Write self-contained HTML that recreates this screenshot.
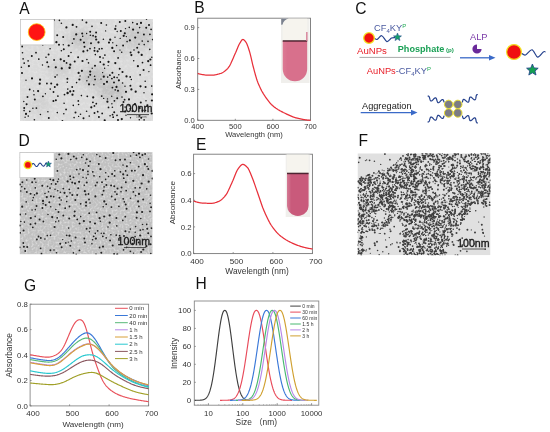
<!DOCTYPE html><html><head><meta charset="utf-8"><style>html,body{margin:0;padding:0;background:#fff;overflow:hidden;width:550px;height:432px} svg{display:block} text{font-family:'Liberation Sans',Arial,sans-serif}</style></head><body>
<svg width="550" height="432" viewBox="0 0 550 432">
<defs><filter id="blur3" x="-50%" y="-50%" width="200%" height="200%"><feGaussianBlur stdDeviation="4"/></filter><filter id="grain" x="0" y="0" width="100%" height="100%"><feTurbulence type="fractalNoise" baseFrequency="0.6" numOctaves="2" seed="3"/><feColorMatrix type="matrix" values="0 0 0 0 0  0 0 0 0 0  0 0 0 0 0  0 0 0 -2 1.2"/></filter><filter id="soft"><feGaussianBlur stdDeviation="0.35"/></filter></defs>
<rect width="550" height="432" fill="#fff"/>
<text x="19.2" y="14.3" font-size="15.6" text-anchor="start" fill="#111" >A</text>
<text x="194.2" y="12.8" font-size="15.6" text-anchor="start" fill="#111" >B</text>
<text x="355.2" y="14.4" font-size="15.6" text-anchor="start" fill="#111" >C</text>
<text x="18.6" y="145.7" font-size="15.6" text-anchor="start" fill="#111" >D</text>
<text x="195.9" y="150" font-size="15.6" text-anchor="start" fill="#111" >E</text>
<text x="358.6" y="145.7" font-size="15.6" text-anchor="start" fill="#111" >F</text>
<text x="23.9" y="291.1" font-size="15.6" text-anchor="start" fill="#111" >G</text>
<text x="195.4" y="288.9" font-size="15.6" text-anchor="start" fill="#111" >H</text>
<clipPath id="clip11"><rect x="20" y="19" width="133" height="102"/></clipPath>
<g clip-path="url(#clip11)">
<rect x="20" y="19" width="133" height="102" fill="#dadada"/>
<ellipse cx="82" cy="39" rx="14" ry="9" fill="#a8a8a8" opacity="0.45" filter="url(#blur3)"/>
<ellipse cx="138" cy="37" rx="16" ry="12" fill="#b0b0b0" opacity="0.45" filter="url(#blur3)"/>
<ellipse cx="95" cy="77" rx="14" ry="10" fill="#a8a8a8" opacity="0.5" filter="url(#blur3)"/>
<ellipse cx="112" cy="91" rx="14" ry="10" fill="#a8a8a8" opacity="0.5" filter="url(#blur3)"/>
<ellipse cx="60" cy="69" rx="12" ry="8" fill="#b4b4b4" opacity="0.35" filter="url(#blur3)"/>
<ellipse cx="120" cy="49" rx="8" ry="8" fill="#b4b4b4" opacity="0.35" filter="url(#blur3)"/>
<ellipse cx="40" cy="104" rx="10" ry="10" fill="#b8b8b8" opacity="0.3" filter="url(#blur3)"/>
<rect x="20" y="19" width="133" height="102" filter="url(#grain11)" opacity="0.2"/>
<g filter="url(#b11)">
<path d="M81.9 70.8h0M107 81.8h0M89 84.3h0M147.4 105.4h0M150.4 59.5h0M32 78.4h0M135.2 37.6h0M141.7 54.9h0M84 42.5h0M54 20.2h0M110.2 39.7h0M140.5 86.3h0M138.6 52.3h0M97.6 51.3h0M103.7 64.5h0M125.3 111.4h0M66.4 27.4h0M93.2 97.4h0M124.8 33.3h0M96.2 39.5h0M126.5 76.4h0M55.8 67.3h0M83.4 51.4h0M151.7 113.5h0M26 113.9h0M112.3 47.9h0M34.5 37.8h0M90.2 71.6h0M126 91.8h0M40.9 35h0M104.7 120.3h0M115.3 28.9h0M129.9 40.3h0M70.2 91.4h0M151.9 100.5h0M64.1 61h0M82.5 61h0M60.7 59.3h0M131.4 55.1h0M135.7 91.7h0M98.5 42.4h0M78.6 72.9h0M123.7 35.8h0M137.9 66.2h0M122.5 72h0M40.1 79.7h0M38.1 91.1h0M116.5 86.9h0M103.8 76.7h0M76.2 34.4h0M141 22.9h0M109 42.6h0M121.8 119.1h0M56.4 42.2h0M68.7 45.5h0M72.7 24.9h0M107.4 101.7h0M43.6 29.8h0M39.7 83.7h0M131.4 89.4h0M108.5 61.8h0M79.4 79.5h0M152.1 94.3h0M91.3 107.3h0M57.2 84.7h0M135 104.1h0M118.9 80.3h0M28.9 66.1h0M72.5 94.7h0M133.1 29.6h0M148.2 61.2h0M61.8 68.4h0M27.1 28.5h0M129 99.4h0M70.3 64.7h0M115.3 63.1h0" stroke="#161616" stroke-width="2.2" stroke-linecap="round" fill="none"/>
<path d="M125.5 28.6h0M45.3 43.7h0M108.1 65.6h0M103.7 98.4h0M45.4 93.7h0M105.6 30.9h0M25.1 117.2h0M104.6 68.2h0M42.5 65h0M115 37.3h0M144 92.7h0M126 115.3h0M23.8 101.5h0M126.4 36.6h0M86.9 80.7h0M148.9 71.6h0M117.2 31.5h0M120.2 38.4h0M49.8 37.9h0M146 100.7h0M125 86.3h0M86.6 33.5h0M111.7 96.3h0M120 50.1h0M26 80.2h0M57.1 74.9h0M107.5 98.9h0M102.6 72.6h0M111.9 103.8h0M63.3 44.8h0M130.5 117.8h0M33.6 90.9h0M92.2 68.3h0M78.6 116.4h0M145.6 110.4h0M80.1 75.9h0M101 79.1h0M112.8 42.8h0" stroke="#161616" stroke-width="1.4" stroke-linecap="round" fill="none"/>
<path d="M22 72.9h0M114.1 51.2h0M120.8 31h0M63.8 49.2h0M100 56.9h0M140.8 102.4h0M96.1 32.4h0M118 90.8h0M139.8 107.9h0M119.8 22h0M24.2 108h0M114.2 77.2h0M125.3 20.9h0M51.6 33.4h0M146.2 27.8h0M94.5 50.8h0M132.4 110.9h0M78.1 57.3h0M104 84.1h0M141.2 117.8h0M123.5 102.1h0M145.6 86.9h0M83.5 118.3h0M80.6 39.8h0M90.2 31.7h0M25.3 25.2h0M68.6 56.1h0M137.2 47.7h0M114.2 112.3h0M47.2 62.3h0M149 25h0M75.5 112.5h0M130.4 85.7h0M95 65.7h0M82.2 33.6h0M95.7 36.7h0M112.4 72.7h0M67.4 78.7h0M142.7 110.5h0M137.1 24.1h0M53.4 100.9h0M143.6 70h0M86.4 22.6h0M48.8 118h0M101.2 23h0M48.6 54.4h0M51.2 83.5h0M57.2 35.2h0M54.8 87.1h0M74.7 61.4h0M91 43.2h0M63.2 37.1h0M114 82.5h0M73.5 90.9h0M143.9 34.5h0M118 119.9h0M31.8 56.1h0M139.4 115.9h0M117.2 98.2h0M34.8 99.5h0M26.6 104.2h0M90.2 74.8h0M119.7 68.7h0M98.9 117h0M55.9 100.2h0M130.6 52.5h0M27.5 96.9h0M94.5 113.1h0M59 44.8h0M84.5 46.8h0M123.1 45.5h0" stroke="#161616" stroke-width="2" stroke-linecap="round" fill="none"/>
<path d="M73.3 105.4h0M47.9 111.8h0M115.8 26h0M57.3 112.6h0M28 37h0M125.1 107.1h0M103.1 58h0M78.6 104.5h0M50.2 89.1h0M67.3 82.2h0M90.4 35.3h0M116.6 45.5h0M88.5 77h0M28.2 116.1h0M121.7 52.3h0M88.5 62.9h0M122 97.1h0M82.4 20.1h0M107.7 77.1h0M46 57.3h0M82.7 36.3h0M94.6 47.9h0M59.4 20.4h0M29.8 111.4h0M76.6 82.6h0M92 26.4h0M32.9 108.3h0M139 44.3h0M139.6 27.6h0M151.8 57.3h0M151.7 86.1h0M21.4 67.2h0M129.3 27.4h0M134 50h0M61.4 50.7h0M67.8 89.1h0M64.1 103.3h0M131.3 79.5h0M22.5 52.8h0M140.1 74.9h0M103.4 39.2h0M63.8 113.8h0M94.6 76.2h0M133.7 60.7h0M86.9 59.5h0M127.1 41.6h0M146.5 19.1h0M24.1 110.6h0M30.5 41.8h0M139.3 119.7h0M81.4 95.6h0M93.9 84.8h0M89.2 116.1h0M61.4 23.3h0M42.8 45h0M28.1 60.9h0M106.4 25h0M112.4 107.2h0M40.4 114.5h0M72.4 43.3h0M50.1 48.8h0M149.8 49.4h0M142.2 41.1h0M71 52.5h0M51.9 28.5h0M23.1 58.9h0M122.6 83h0M115.2 89.9h0M144.1 119.9h0M144.2 44.6h0M152.6 39.6h0M118.8 74.7h0M34.4 119.7h0M148 41.4h0M110.1 115.7h0M33.3 22.8h0M145.2 81.2h0M80.5 114.2h0M129.1 105.7h0M23.8 30.2h0M86.6 111.2h0M74.1 117.6h0M34 94.7h0M117.1 77.6h0M132.7 22.6h0M95.3 54.6h0" stroke="#161616" stroke-width="1.6" stroke-linecap="round" fill="none"/>
<path d="M100.3 62h0M99.3 48.9h0M94.4 105.9h0M22.2 46.5h0M111.9 78.6h0M113.2 117.2h0M62.4 120.9h0M150.6 65.2h0M101.7 96.1h0M90 48.6h0M102.2 113.4h0M138 32.7h0M87.3 96.3h0M73.9 38.9h0M54.1 60h0M95.1 79.4h0M109.9 75.2h0M142.5 62.6h0M78.3 100.9h0M114.4 100.8h0M97.7 111.7h0M42.9 96.3h0M92.9 102.3h0M101.9 48.6h0M72.2 87h0M96.3 103.7h0M118.1 57.9h0M55.1 76.9h0M108.5 107.4h0M46.9 83.5h0M112.6 114.7h0M57.9 96.1h0M124.6 99.7h0M43.9 34.5h0M38.8 59.1h0M76.5 26.8h0M93.1 35.7h0M48.5 66.7h0M29.7 89.5h0M48.7 23.2h0M130.3 108.7h0M87.4 50.5h0M149.9 34.3h0M66.1 109.4h0M36.8 25.5h0M53.5 92h0M130.2 76.9h0M36 52.7h0M43.4 21.7h0M151.1 29.3h0M104.9 55.1h0M64.5 94.6h0M66.6 62.9h0M112.4 87.6h0M36.4 108.1h0M24.2 63.1h0M117 115.3h0" stroke="#161616" stroke-width="1.8" stroke-linecap="round" fill="none"/>
<path d="M69.6 67.8h0M67.6 93h0" stroke="#161616" stroke-width="2.4" stroke-linecap="round" fill="none"/>
</g>
<filter id="b11" x="-5%" y="-5%" width="110%" height="110%"><feGaussianBlur stdDeviation="0.35"/></filter>
<filter id="grain11" x="0" y="0" width="100%" height="100%"><feTurbulence type="fractalNoise" baseFrequency="0.35" numOctaves="2" seed="11"/><feColorMatrix type="matrix" values="0 0 0 0 1  0 0 0 0 1  0 0 0 0 1  3 0 0 0 -1.3"/></filter>

</g>
<rect x="20.3" y="19.3" width="33.8" height="25.6" fill="#fff" stroke="#b8b8b8" stroke-width="0.6"/>
<circle cx="36.7" cy="32.1" r="8.4" fill="#ff1414" stroke="#ffc400" stroke-width="0.8"/>
<text x="119.6" y="111.8" font-size="10.8" text-anchor="start" fill="#1a1a1a" stroke="#1a1a1a" stroke-width="0.35">100nm</text>
<line x1="127" y1="114.6" x2="149" y2="114.6" stroke="#222" stroke-width="0.8"/>
<text x="136" y="118.3" font-size="3.2" text-anchor="start" fill="#555" >100 nm</text>
<clipPath id="clip22"><rect x="19.6" y="152.1" width="133.1" height="102.3"/></clipPath>
<g clip-path="url(#clip22)">
<rect x="19.6" y="152.1" width="133.1" height="102.3" fill="#c0c0c0"/>
<rect x="19.6" y="152.1" width="133.1" height="102.3" filter="url(#grain22)" opacity="0.42"/>
<g filter="url(#b22)">
<path d="M147.1 166.5h0M142.6 224.5h0M44.9 239h0M54 250h0M105.7 172.7h0M104.1 186.9h0M32.6 200.2h0M130.6 156h0M99.9 156.4h0M50.7 206.8h0M20.8 191h0M45 193.6h0M121 191.7h0M33.3 197.6h0M88 174.4h0M51.4 183.9h0M80.7 216.6h0M110.9 234.8h0M135.2 232.2h0M99.7 176.7h0M25.7 214h0M123 165.1h0M41 162.3h0M86.3 178.1h0M70.8 159.6h0M101.2 233.3h0M80.1 169h0M108 227h0M83.3 154.7h0M35.3 187.9h0M35.9 182.3h0M56.3 159.2h0M26.2 201.9h0M34.5 194.9h0M124.3 201.9h0M96.8 154.6h0M132.7 240.2h0M55 189.3h0M89.4 231.8h0M66.7 201.6h0M146.7 224.4h0M24.4 222.1h0M71.3 241h0M47.6 174.1h0M58.7 221h0M79 174h0M50.4 161.5h0M114.8 170.8h0M130.4 162.7h0M73.4 252.9h0M43.1 203.6h0M150.8 253.5h0M90 203h0M143 229.6h0M35.2 216.4h0M148.5 159h0M20.8 221.5h0M84.3 185.3h0M116.8 225.9h0M35.4 209.6h0M83 177.3h0M150.1 203.2h0M48.5 191.7h0M103.2 206.7h0M50.5 235.4h0M70.4 179.3h0M60.4 192.3h0M26.8 180h0M135.6 195.6h0M135.6 226.6h0M21.8 186.8h0M68.7 228.1h0M46 165.8h0M100.4 221.3h0M126.7 247.4h0M22.7 170.3h0M47.3 235.6h0M91.9 243.7h0M55.8 209.5h0M92.6 239.7h0M106.2 237.9h0M130.3 229.1h0M105.6 179.4h0M95.3 233.4h0M130.5 198.3h0M108.5 176.5h0M57.8 190.7h0M55.7 221.7h0M32.1 210h0M56.5 252.7h0M140.8 218.5h0M48 214.5h0M61.2 200.1h0M76.2 254.3h0M135.1 236.6h0M58.5 179.1h0M129.1 232h0M85.5 163h0M24.7 167.3h0M70 192.9h0M150.5 195.3h0M47.6 186.4h0" stroke="#222" stroke-width="1.6" stroke-linecap="round" fill="none"/>
<path d="M152.5 170.9h0M136.9 212.4h0M95 223.5h0M141.6 183.5h0M143.3 249.5h0M84.8 191.2h0M32.7 158.9h0M74.4 215.8h0M59.3 154.5h0M43 200.9h0M67.6 181.4h0M30.5 167.9h0M123.2 174.3h0M104.2 216.5h0M142.1 212h0M64.5 192.8h0M83 170.1h0M146.4 246.2h0M138.1 201.4h0M109.7 222.7h0M69.5 235.7h0M68.4 153.9h0M36.8 160h0M103 246.6h0M36.9 193.4h0M79.1 181.8h0M83.9 221.1h0M54.6 227h0M113.3 153h0M75 183.4h0M143 175.2h0M144.9 164.2h0M30.8 218.1h0M61.4 158.3h0M140.2 235.5h0M52.2 217.1h0M104.3 201.4h0M99.6 218.2h0M139 153.6h0M95.4 196.4h0M139 193.9h0M148.7 181.7h0M86.1 202.3h0M53.3 180.2h0M100.5 169.2h0M109.7 215.4h0M46.8 197.1h0M22.2 206.7h0M33.9 155.5h0M95.9 238.6h0M133.3 180.8h0M117.2 254.3h0" stroke="#222" stroke-width="2.2" stroke-linecap="round" fill="none"/>
<path d="M50.4 250.3h0M44.2 157.1h0M23.9 246.7h0M86 205.7h0M116.4 217.9h0M124 236h0M115.2 199.6h0M105.6 157.9h0M23.6 230.5h0M40.8 237.9h0M70.1 176.2h0M106.4 185h0M86.7 159.2h0M70.3 245.7h0M69.2 218.5h0M79.6 223.4h0M26.3 164.7h0M73.8 156.4h0M34.7 178.7h0M39.6 219.4h0M121.5 187.4h0M117.5 188.4h0M19.8 225.6h0M88.6 166h0M75.6 237.4h0M32.2 182.3h0M148.2 233.3h0M50.9 196.2h0M72.3 195h0M45.7 204.9h0M126.6 208.8h0M55.8 183.9h0M86.6 228.8h0M60.2 243.8h0M103.6 190.8h0M49.3 202.2h0M59.4 197.8h0M148.3 169h0M35.3 223.5h0M111.1 185.5h0M125.4 231.3h0M150.6 244.2h0M126.9 166.2h0M72.2 182.5h0M152.5 178.5h0M63.3 215.4h0M115.5 160.2h0M36.5 205.9h0M22.4 182.3h0M142.4 155h0M136.6 217.8h0M42.3 185.8h0M58.5 211.9h0M20.1 214.5h0M78.2 188.3h0M98.8 163.9h0M37.4 164.9h0M143.2 199.4h0M110.1 240.6h0M114.1 253.9h0M30.6 193.8h0M147.2 228.7h0M101.3 252.7h0M120.1 159.7h0M30.5 224.2h0M112.1 174h0M19.9 184.6h0M27.2 247.1h0M85 242.6h0M86.8 182.5h0M75.3 199.9h0M76.3 158.4h0M77.2 195.1h0M125 159.5h0M131.8 170.7h0M112.7 245.5h0M37.7 175.9h0M74.7 211.4h0M26.8 191.9h0M61.6 247.3h0M125.8 182.3h0M151.1 207.2h0M125.7 204.4h0M114.3 186.3h0" stroke="#222" stroke-width="2" stroke-linecap="round" fill="none"/>
<path d="M99.6 247.5h0M123.6 249.8h0M38.5 236.5h0M88.5 194h0M97.1 182.5h0M66.9 196.3h0M42.4 208h0M63.3 188.6h0M151.5 228.2h0M145.1 154h0M111.7 196.5h0M25.2 251h0M35.3 174.2h0M134.9 170.6h0M50.3 179.3h0M87.9 171.4h0M45.6 168.6h0M66.7 235.3h0M93.7 236.3h0M90.1 221.9h0M150 211.5h0M114.6 175.9h0M40.6 248.3h0M111.4 207.1h0M133.4 191.9h0M57.2 217.8h0M125.3 216.7h0M50 188.1h0M40.7 157.8h0M50.6 165.1h0M126.2 190.7h0M81.7 157.3h0M25.9 161.2h0M57.4 170.9h0M118.9 206.3h0M89.2 213.2h0M151 236.4h0M141.1 252h0M76.7 169.6h0M138.6 242.5h0M140.3 230.1h0M103.9 233.3h0M90.1 161.3h0M135.2 187.8h0M138.9 206.4h0M115 191.8h0M69.3 189.3h0M119 239.9h0M119.6 235.7h0M139.9 157.3h0M36.9 239.5h0M79.4 250.4h0M102.8 236.3h0M136.5 155.2h0M138.7 166.6h0M23.3 243h0M19.7 247.3h0M95.5 185.5h0M128.4 242.1h0M85.7 194.5h0M53.7 196.7h0M122.8 220.3h0M77.2 219.4h0M96.6 212.4h0M102 182.2h0M146.7 188.8h0M41.5 253.7h0M120.4 171.8h0M127.3 175.2h0M80.7 203.8h0M84.3 238.5h0M130.4 251.3h0M123.2 198.8h0M69.5 206.5h0M59.7 204.5h0M90 228.1h0M125.6 170.9h0M139.9 187.7h0M116.2 235.1h0M20.2 232.8h0M97.7 230.8h0M43.4 221.5h0M32.8 227.3h0M65.8 242.9h0M106.2 204.2h0M116.9 194.2h0M73.5 177.4h0M89 199.5h0M102.3 194.7h0M123.8 178.2h0M133.6 152.3h0M57.6 181.6h0M65.2 208.2h0M92.8 171.8h0M94 175.8h0M24.7 188.7h0M132.6 243.6h0" stroke="#222" stroke-width="1.8" stroke-linecap="round" fill="none"/>
<path d="M96 254h0M133.5 253.1h0M68.3 242.1h0M20.5 157.2h0M62.7 239.6h0" stroke="#222" stroke-width="1.4" stroke-linecap="round" fill="none"/>
</g>
<filter id="b22" x="-5%" y="-5%" width="110%" height="110%"><feGaussianBlur stdDeviation="0.35"/></filter>
<filter id="grain22" x="0" y="0" width="100%" height="100%"><feTurbulence type="fractalNoise" baseFrequency="0.5" numOctaves="2" seed="22"/><feColorMatrix type="matrix" values="0 0 0 0 1  0 0 0 0 1  0 0 0 0 1  3 0 0 0 -1.3"/></filter>

</g>
<rect x="19.9" y="152.4" width="34.2" height="25.3" fill="#fff" stroke="#b8b8b8" stroke-width="0.6"/>
<path d="M31.50 165.20 L31.73 164.82 L31.96 164.46 L32.20 164.14 L32.43 163.87 L32.67 163.67 L32.92 163.55 L33.16 163.51 L33.42 163.55 L33.68 163.68 L33.94 163.88 L34.20 164.14 L34.47 164.45 L34.74 164.79 L35.01 165.15 L35.28 165.49 L35.54 165.81 L35.81 166.09 L36.07 166.31 L36.33 166.46 L36.58 166.52 L36.83 166.51 L37.08 166.40 L37.32 166.22 L37.56 165.97 L37.79 165.67 L38.02 165.32 L38.26 164.94 L38.49 164.56 L38.72 164.19 L38.95 163.86 L39.19 163.58 L39.42 163.36 L39.67 163.21 L39.91 163.15 L40.17 163.17 L40.42 163.27 L40.68 163.45 L40.95 163.70 L41.21 164.00 L41.48 164.33 L41.75 164.69 L42.02 165.04 L42.29 165.37 L42.56 165.66 L42.82 165.89 L43.08 166.06 L43.33 166.15 L43.59 166.15 L43.83 166.08 L44.07 165.92 L44.31 165.68 L44.55 165.39 L44.78 165.05 L45.01 164.68 L45.24 164.30 L45.47 163.93 L45.70 163.58 L45.94 163.29 L46.18 163.05 L46.42 162.88" fill="none" stroke="#24408c" stroke-width="1.1" stroke-linejoin="round" stroke-linecap="round"/>
<circle cx="27.9" cy="164.9" r="3.6" fill="#f01010" stroke="#f2e020" stroke-width="1.5"/>
<polygon points="48.40,161.10 49.25,163.14 51.44,163.31 49.77,164.74 50.28,166.89 48.40,165.74 46.52,166.89 47.03,164.74 45.36,163.31 47.55,163.14" fill="#13a06a" stroke="#1d3d8a" stroke-width="0.5"/>
<text x="117.6" y="244.8" font-size="10.6" text-anchor="start" fill="#1a1a1a" stroke="#1a1a1a" stroke-width="0.35">100nm</text>
<line x1="124" y1="247.5" x2="146" y2="247.5" stroke="#333" stroke-width="0.8"/>
<clipPath id="clip33"><rect x="357.5" y="153.3" width="133" height="102"/></clipPath>
<g clip-path="url(#clip33)">
<rect x="357.5" y="153.3" width="133" height="102" fill="#e0e0e0"/>
<g filter="url(#b33)">
<path d="M433.4 217.8h0M423.5 158.7h0M366.8 202.4h0M370.8 195.6h0M463.9 208.9h0M368 187.7h0M443.3 250.9h0M465.2 157.5h0M408.8 242.7h0M380.8 196.6h0M418.4 246.7h0M417.4 237.3h0M399.6 209.1h0M404.2 182.8h0M452.8 159.7h0M414.9 187.3h0M383 187.7h0M449.6 204.1h0M399.9 251.3h0M367 200.5h0M479.4 181.7h0M400.4 185h0M460.4 192.1h0M435 206.9h0M388.6 219.9h0M433.7 213.4h0M386.7 208.9h0M361.2 238.5h0M425.6 217.9h0M436.8 155.2h0M457.3 199.6h0M437.8 234.6h0M447.5 154.8h0M422.7 207.1h0M370.2 202h0M417.6 228.6h0M449.1 190.9h0M410.2 174.3h0M360.3 192h0M376.3 192.1h0M438.1 247.9h0M417.1 185.9h0M369.7 216.2h0M490.5 191.4h0M458.8 180.9h0M389.2 186.6h0M405.4 244.1h0M392.6 178.2h0M444.1 165.9h0M386.1 194.2h0M366.7 220.4h0M403.5 244.4h0M415.3 224.5h0M393.3 177.1h0M426.2 239.8h0M393.8 207.1h0M416.8 207.1h0M399.6 177h0M440.6 179.9h0M400.7 186.3h0M359.9 221.8h0M443.8 189.7h0M410.3 220.7h0M436.6 227.4h0M421.2 162.1h0M386.4 222.4h0M413.1 186.6h0M379.7 195.5h0M435.2 254.7h0M484 201.5h0M406.1 225.4h0M398.1 195.7h0M407.3 242.5h0M441.9 239.9h0M480.6 192.6h0M479.8 169.1h0M453.6 197h0M478.8 191.7h0M418.5 210.8h0M470.7 197.5h0M442.7 157.8h0M415.6 184.9h0M385.9 225.1h0M368.4 180.6h0M416.2 158.9h0M444.8 236.2h0M476.6 189.9h0M411.4 230.9h0M403.5 170.2h0M457.5 205.4h0M398.5 182.8h0M429.5 225.3h0M465.7 202.9h0M412.1 169.5h0M401.7 194.8h0M404.5 164.4h0M421.9 170.1h0M485.2 154.1h0M406 195.9h0M470.2 204.5h0M439.1 215.9h0M421.9 215.2h0M414.7 174.1h0M411.4 159.7h0M443.8 234.5h0M453.7 245h0M398.4 217.9h0M431.9 244.4h0M464.1 197.3h0M407 234.7h0M482 195.4h0M415.4 195.2h0M368.1 199.7h0M361.3 232.8h0M475.9 157.3h0M450 157.2h0M432.9 217.3h0M411.2 164.6h0M391.8 211.7h0M404 240.8h0M368.2 183.1h0M440.3 172.7h0M430.8 175.3h0M449.1 180.8h0M419.8 211.4h0M444.9 208h0M432.1 226.6h0M451.1 190h0M404.9 236h0M478.5 157.9h0M481.7 180.6h0M405.9 236.6h0M467.4 229.8h0M381 195.9h0M434.5 160.4h0M403.6 181.1h0M462.3 195.6h0M453.3 165.2h0M487.5 173.9h0M419.3 196.9h0M374.8 232.5h0M424.7 157.7h0M481.9 172.2h0M466.5 210h0M391.6 217.4h0M362.5 237.5h0M390 176.3h0M476.4 170.3h0M449.6 158.9h0M411.8 183.5h0M419.7 253.2h0M454.6 193.5h0M368.5 175.1h0M422.4 153.6h0M412.6 164.3h0M372.4 175.7h0M489.7 173h0M371.9 208.7h0M407.8 216.5h0M360.8 223h0M437.3 156.8h0M434.8 196.9h0M444.2 216.4h0M474 177.3h0M439.3 159.7h0M407.4 195h0M411.8 231.6h0M423.7 157.9h0M358.7 252.9h0M406.7 220.7h0M367.3 222.9h0M456.9 188.6h0M363.3 214.4h0M429.8 233h0M459 191.2h0M430.5 246.9h0M398.6 247.1h0M430.5 253.6h0M378.3 185.7h0M452.1 234.6h0M380 173h0M388.4 182.4h0M437.9 174.5h0M420 244.9h0M461.3 157.1h0M382 203.9h0M358.2 219h0M456.7 199.3h0M419.3 159.6h0M385.1 205.1h0M432.1 188.9h0M450.1 174.1h0M382.7 204.8h0M397.5 165.4h0M483.2 203.8h0M403.1 170.1h0M471.3 169h0M402.8 186.8h0M371.6 204.6h0M381.6 201.8h0M450.1 228.7h0M369.5 229.5h0M436.3 223.5h0M393.1 192.2h0M391.7 205.8h0M451.8 158.6h0M443.4 198h0M416.2 186.8h0M420 206.2h0M397 188.6h0M447.4 218.2h0M381.2 197h0M462.6 218.5h0M407.8 206.6h0M438.1 207.2h0M482.4 194h0M372.2 226.2h0M388.2 178.9h0M404.8 250.5h0M431.8 206.3h0M448.8 175.1h0M396.1 181.9h0M446.4 239.5h0M424.1 156h0M468.5 201.3h0M362.2 180.2h0M462.2 194h0M373 221.1h0M407.7 249.9h0M379.6 185.2h0M378.9 171.2h0M456 154.2h0M384.9 154h0M438.1 225h0M395.2 209.5h0M423.2 253.4h0M429.2 155.6h0M478.1 161.9h0M438.8 222.3h0M404.5 219.8h0M441.7 253.2h0M386.7 198.8h0M395.9 179.7h0M481.5 182.9h0M483.8 181.8h0M388.3 173.9h0M426.8 169.4h0M371.1 182.5h0M364 182h0M425.9 193.7h0M363.6 200.4h0M362.8 221.3h0M407.1 177.4h0M455.1 209.5h0M476.8 164.3h0M465.3 213.2h0M442.5 178.8h0M490 187.9h0M435.2 217.1h0M413.8 163.4h0M432.2 213.9h0M445.1 231h0M448 172.6h0M471.2 187.5h0M453.6 175.1h0M434.1 220.9h0M386.8 200.8h0M382.3 222.4h0M400.8 182.5h0M369.3 174.8h0M437 161.9h0M391.7 194.5h0M460.4 213.6h0M451.3 201h0M411 192.6h0M489.6 159.6h0M455.1 211.3h0M385 183.3h0M442.5 163.9h0M386.5 246.9h0M360.2 225.5h0M469.5 198.3h0M451 199.2h0M405.1 241.3h0M465.1 209.9h0M387.7 183.9h0M444 234.8h0M412 199.5h0M444.1 232.5h0M462.2 220h0M490.1 162.2h0M363.5 194.7h0M365 196.5h0M413.8 176.5h0M430.5 220.2h0M438.6 210.9h0M389.5 202.4h0M445.6 206.6h0M388.6 193.1h0M436 175.3h0M370.7 192.7h0M455.7 204h0M370.7 177.7h0M439.4 243.8h0M429.5 198h0M423.2 234.9h0M404.2 183.5h0M389.8 196.2h0M423 173.8h0M461.3 155h0M439.2 167.7h0M408.1 179.3h0M471.4 154.7h0M359.9 205.2h0M472.1 168.7h0M396.5 166h0M422.4 179.5h0M464.4 159.6h0M416.8 214.7h0M377 241.7h0M377.9 188.4h0M448.2 157.9h0M360.4 220.9h0M456.5 233.1h0M358.5 251.5h0M374.5 230.3h0M459.3 174h0M444.6 195.4h0M424.3 239.4h0M433.2 215.3h0M408.6 160.9h0M390.9 201.9h0M419.5 157.3h0M383.1 178.8h0M464.3 186.8h0M415.9 189.3h0M369.8 177.6h0M375.6 191.5h0M419.8 197.3h0M360.7 238.4h0M388 170.6h0M466.7 162.1h0M450.2 177h0M482.9 166.2h0M412.6 195.6h0M425.4 206.6h0M458.1 153.7h0M430.4 159.3h0M461.7 211.7h0M468.2 160.9h0M482 202.8h0M382.3 197.8h0M377.6 228.3h0M411.5 170.3h0M358.7 241.4h0M435.7 181.3h0M423.1 202.3h0M485.6 184h0M476.7 168.6h0M458 225.2h0M363.9 190.3h0M427.8 205.2h0M378.4 204.7h0M415.4 156.6h0M386.1 192.8h0M456.1 224.5h0M395 193h0M420.4 210.9h0M434.5 253.4h0M466.2 180.3h0M483 232.8h0M405.9 158.2h0M415.3 177.4h0M485.9 169.3h0M434 203.9h0M359 214.8h0M382.1 197.6h0M430.7 219.2h0M365.7 209.4h0M434.3 238h0M406.5 207.3h0M415.8 212.2h0M388 199.9h0M453.6 214.8h0M464.4 189.2h0M409.7 205.9h0M426.7 229.9h0M415.4 154.4h0M373.5 226.3h0M411.7 214.7h0M361.6 253.1h0M406.5 159.3h0M360.1 241.8h0M425.4 166.5h0M420 249.8h0M442.2 202.2h0M359.7 221.9h0M445.1 252.5h0M438 159.5h0M407.6 190.9h0M413.7 219h0M443.5 205.6h0M408.1 206.3h0M418.4 233.6h0M400.2 184.6h0M477.9 201h0M475 232.5h0M432.2 200h0M431 239.8h0M442.7 240.9h0M382.2 187.1h0M409.8 215.6h0M365.9 178.6h0M435.2 208.4h0M435.2 242.4h0M482.3 159.7h0M416.7 173.2h0M360.7 183.2h0M454.5 219.6h0M429 247.1h0M485.9 190.2h0M464.1 219.3h0M409.4 236.3h0M375 245.2h0M393.2 186.9h0M441.6 253.1h0M459 214.3h0M471.4 202.4h0M475.8 187.8h0M451.3 231.3h0M433.1 192.6h0M489.7 170.4h0M390.6 231.2h0M432.9 199.3h0M383.6 226.1h0M383 195.6h0M409.5 157.6h0M457.2 165.6h0M487.2 179.3h0M384.4 182.7h0M470.8 187.7h0M469.2 173.3h0M486.5 206h0M376.1 210.4h0M442.1 221h0M447.8 243.6h0M403.9 180.8h0M478.2 182.1h0M464 178.8h0M363.1 216.4h0M408.9 231.6h0M430.9 215.2h0M405.6 166.3h0M465.6 205.9h0M481.2 167.5h0M486.6 199.1h0M431.9 251.8h0M470.2 167.4h0M367.8 195.7h0M388.7 194h0M450.4 222h0M416.4 174.2h0M425.8 153.4h0M479.4 181.6h0M415.5 166.3h0M415.7 234.1h0M444 252.8h0M433 235.4h0M372.4 230h0M384.5 223.3h0M359.7 157.7h0M466.6 177.2h0M489.6 175h0M389.7 205.3h0M463.1 200.3h0M451.6 204.5h0M367.4 202.2h0M434.5 251.4h0M418.3 184.2h0M370.4 181.6h0M415.6 178.2h0M467 196.9h0M452.7 168.4h0M402.1 212.2h0M366.1 226.4h0M393 197.2h0M423.7 159.2h0M384.1 175.1h0M379.8 195.4h0M415.7 162.6h0M391 167.6h0M416.6 182.8h0M401.9 186.6h0M434.7 231.4h0M444.9 205.4h0M434 216.6h0M433.2 168.2h0M412.1 172h0M437.4 175.7h0M369.5 184.4h0M429.5 182.6h0M412.3 214.3h0M432.8 156.7h0M380.4 191h0M381 202.4h0M418.1 172.8h0M395.3 196.5h0M458.5 178.2h0M440.7 207.3h0M412.1 222.1h0M405.9 229.7h0M421.8 227.6h0M456 196.6h0M425.5 243.2h0M459.9 163.4h0M455 213.1h0M429.2 206.8h0M386.3 197.7h0M419.8 222h0M433.6 166.8h0M392.5 181.7h0M381.3 201.4h0M467.6 182.8h0M389.8 179.7h0M440.1 242.5h0M406.5 204.6h0M451 213.7h0M459.3 229.6h0M426.6 177.3h0M423.2 229.2h0M457.1 204.6h0M400.8 158.3h0M472.2 188.3h0M369.6 248.7h0M444.1 184.7h0M428.1 156.4h0M414.7 204.7h0M359.2 191h0M474.1 194.6h0M485.8 169.7h0M369.5 179.9h0M416.6 162.5h0M483.2 163.9h0M419.6 215.2h0M396.3 170.5h0M425.9 230.6h0M446.8 229.5h0M422.3 247.1h0M444.5 219.7h0M463.9 170.3h0M377.3 189.8h0M433.8 203.5h0M447.2 180.7h0M365.2 187.8h0M361.8 236.8h0M477.2 200.4h0M383.3 225h0M407.9 214.3h0M425.6 226.6h0M429.7 229.3h0M453 200.8h0M465.5 156.7h0M482.7 160.3h0M462.2 214.9h0M423.8 242.4h0M486.9 169.5h0M477 190.6h0M419 243.4h0M414.1 154.4h0M441.1 166.3h0M444.2 166.1h0M424.6 222.2h0M435.9 250.9h0M438.1 228.9h0M420.4 251.1h0M393.1 205.9h0M452.4 165.5h0M485.8 192.8h0M403.7 170.3h0M361.8 215.3h0M455.4 154.7h0M482.9 180.6h0M400.1 164.9h0M362.3 231.6h0M450.2 184.4h0M360.2 207.2h0M481.8 224.7h0M483.6 200.4h0M412 214.2h0M374.6 243.3h0M445.2 205.4h0M488.5 162.2h0" stroke="#3e3e3e" stroke-width="2" stroke-linecap="round" fill="none"/>
<path d="M478.4 172.3h0M429.2 233.4h0M485.4 202.5h0M358.4 249.1h0M374.6 187.2h0M442.5 177.3h0M358.6 199.1h0M410.6 163.4h0M378.5 175.6h0M423.1 205h0M397.6 183.6h0M365.9 207.9h0M444.9 195.3h0M485.9 185.3h0M445.9 161.8h0M442.5 244.3h0M462.7 158h0M466.1 210.3h0M391.5 190.5h0M406.8 174.3h0M444.3 184.9h0M474.9 202.2h0M419.4 232.6h0M412.7 228.2h0M451.1 185h0M415.9 200.8h0M464.7 172.8h0M394.3 175.4h0M428.8 238.2h0M419.2 213.5h0M402.3 178.7h0M420.8 217.6h0M463.2 184.9h0M458.3 175.7h0M441 223.9h0M414.6 239.9h0M471.6 157.8h0M450 220.3h0M406.6 183.1h0M472.9 202.6h0M435.7 211.9h0M410.9 252.5h0M415.1 197.1h0M441.4 250.8h0M424.4 207h0M412.4 195.2h0M390.8 188.4h0M390.7 198.4h0M473.5 196.7h0M436.2 162.5h0M413.4 249.6h0M407 232.4h0M488.8 156h0M468.5 189.8h0M373 192.3h0M488.5 194.8h0M479.4 182.5h0M362.5 189.9h0M437.4 240.1h0M374 223.1h0M489.2 173h0M423.8 207.1h0M459.8 189.3h0M394 174.7h0M401.2 192h0M416.1 167.2h0M360.5 244.5h0M477 199.3h0M438.6 206h0M469.5 211.5h0M404.6 194.2h0M470 187.4h0M362.2 236.7h0M361.9 229h0M449.6 190.6h0M485.5 199.5h0M422.8 177.9h0M465.6 171.9h0M431.8 235.3h0M415.1 194.5h0M404.7 198.8h0M393.9 164.9h0M425.2 200.1h0M410 217.4h0M424.3 225.3h0M402.4 174.1h0M360.5 207.6h0M439.1 217.4h0M362.3 178.4h0M449.1 211.6h0M474.1 159.5h0M393 186.7h0M426.5 169h0M381.6 176.9h0M359.6 182.7h0M482.8 156.9h0M477.9 203.8h0M414.3 154.7h0M451.2 188.7h0M361.2 181.4h0M481.5 191.3h0M428.9 187.8h0M389.3 215.3h0M395.2 167.9h0M408.1 239.6h0M411.3 231.9h0M414.1 202.8h0M391.3 219.7h0M472.1 166.2h0M405.4 161.5h0M427.8 216.5h0M400.1 199.2h0M430 216.4h0M425.8 232.5h0M387.8 198.5h0M446.2 188.3h0M397.6 188.2h0M461.2 199.4h0M362.2 231.6h0M464.1 178.6h0M433.9 162h0M371.7 201.4h0M358.7 162.4h0M400 250.3h0M478.4 174.3h0M447.5 212.3h0M484.8 182.8h0M434.3 234.4h0M410 162.5h0M374.6 206.3h0M424.5 158.1h0M369.8 230.2h0M405.2 251.8h0M438.3 242.5h0M430.7 224.7h0M425.8 218.3h0M406.3 186.9h0M388.8 196.4h0M426.9 250.5h0M428 186.6h0M420.9 215.4h0M395.8 164.3h0M431.5 241.2h0M408.1 197.9h0M402.8 241.2h0M389.7 199.5h0M426.8 223h0M434.4 244.8h0M440.5 174.8h0M415.4 184.3h0M466.3 184.7h0M425.3 218.1h0M452 210.1h0M436.1 216.8h0M358.1 195.1h0M394.2 196.3h0M376.4 226h0M373.9 219.7h0M435.5 173.9h0M427.2 185.8h0M430 250.3h0M366.1 231.3h0M415.1 214.9h0M463.6 159.8h0M405.7 188.3h0M483.7 169.6h0M409.9 250.2h0M359.1 213h0M481.4 177.1h0M475 170.9h0M434.5 180.1h0M407.5 184.6h0M377.5 190.9h0M369.5 191.5h0M428.5 251.3h0M429.1 244.4h0M359.9 250.7h0M409.5 217.6h0M451.1 212.8h0M436.6 161.1h0M454.3 176h0M409.1 178.3h0M452.9 164.3h0M402.5 173.7h0M414 229.2h0M478 182.8h0M406.2 220.7h0M387.2 202.8h0M471.8 193.2h0M487.3 155.6h0M467.8 200.9h0M363.7 223.1h0M437.6 201.1h0M415.1 160.1h0M370.3 213.5h0M428.5 228.3h0M486.8 178.4h0M436.1 251.6h0M422.1 228.6h0M460.7 194.5h0M444.1 208.9h0M357.9 220.8h0M425 184.1h0M362.6 249h0M471.2 158.8h0M434.2 156.4h0M479.9 179.4h0M421.3 202.9h0M445.2 202.4h0M444.8 200.4h0M406.4 203.8h0M446.5 252.8h0M477.4 159.3h0M401.4 160.1h0M440.6 166.5h0M490.5 187.6h0M417.9 202.3h0M417.2 201.9h0M416 235.7h0M448 181.8h0M361.8 190.9h0M374.1 196.8h0M383.3 177.4h0M361.6 237.1h0M425.2 165.5h0M443.1 225.7h0M413 227h0M410.6 183.1h0M384.6 191h0M420.7 246.6h0M433.7 160.2h0M427.5 249.1h0M429 243.9h0M437.3 172h0M365.4 195.4h0M413 160.1h0M367.7 175.4h0M418.5 216.1h0M390.8 206.3h0M404.9 226.3h0M485.2 176.9h0M443.8 242.8h0M483.2 179.2h0M486.4 175.8h0M407.7 180.8h0M419.4 236.8h0M359.5 216.7h0M444.9 166.1h0M425 239.4h0M453.3 229.3h0M475.9 179h0M480.3 182h0M469.2 204.8h0M362.8 251.5h0M425.6 209.2h0M425.9 188.8h0M400.9 198.1h0M434.2 253.4h0M384 225h0M439.8 220.4h0M451.6 175.9h0M428.1 188.1h0M398.1 211.5h0M360.7 207.6h0M377.7 177.5h0M406.4 254h0M404 249.6h0M411.2 241.7h0M409.6 166.1h0M425.7 211.6h0M482.6 187.8h0M445.2 173.8h0M450 223.5h0M374.4 179h0M447.2 183.6h0M404.7 163.4h0M473.9 196.5h0M465.8 186.2h0M434.9 248.3h0M395.1 203.5h0M452.6 206.5h0M363.5 207.2h0M426.3 219.2h0M425.7 181.1h0M446.6 193.8h0M435.7 249.9h0M409.7 223.6h0M374.9 181.9h0M480.7 194.8h0M471 199.6h0M474.2 196h0M421.4 248.5h0M461.2 211.3h0M466.6 193.9h0M403.5 194.6h0M431.6 251.3h0M385.3 206h0M371.9 207.8h0M490.2 186.5h0M440.4 181.9h0M489 176.8h0M442.4 239.6h0M485.4 204.9h0M425.9 164.5h0M448.9 198.8h0M425.7 235.5h0M489.4 190.2h0M431.5 216.6h0M399.9 185.3h0M396.2 178.1h0M448.8 161.8h0M421 160.9h0M474.1 166.5h0M372.6 205.3h0M358.7 202.9h0M382.9 183.8h0M428.7 255h0M368.5 214.8h0M424.5 158.6h0M388.6 206.9h0M440.4 209.4h0M435.1 202.2h0M403.9 165.6h0M393.7 197.9h0M446.6 177.9h0M382.6 190.6h0M406.9 188.7h0M366.3 193.8h0M416.6 178.5h0M389 170.4h0M423.7 215.7h0M438 202.1h0M362.2 250.3h0M373.7 195.4h0M418 225.4h0M412.1 211.4h0M451.6 224.3h0M453.2 218.8h0M462.2 178.7h0M406.1 175.6h0M357.8 197.3h0M445.9 239.7h0M442 210.2h0M417.8 199.5h0M431.7 215.2h0M373.8 194.6h0M390.6 219.9h0M424.4 171.9h0M427.4 218.1h0M380.2 199.9h0M359.7 178.9h0M482.9 195.9h0M483.9 160.3h0M404.8 169.4h0M445.1 157.6h0M439 165.8h0M364.2 179.1h0M430.3 210.5h0M467.3 206.7h0M387.5 200.7h0M473 165.9h0M377.3 180.8h0M447.9 229.5h0M477.8 156.6h0M363.4 209.7h0M363.2 178.2h0M455.1 186.2h0M411.3 174.3h0M399.7 217.8h0M475.7 210.8h0M363.7 232.5h0M481.6 193.3h0M417.3 233.1h0M402.9 225.3h0M447.3 212.6h0M443.9 243.9h0M374.5 230.2h0M434.3 233.1h0M404.5 185.7h0M469.7 182.1h0M385.5 178.2h0M428.9 211.5h0M414.8 189.5h0M367 186.1h0M488.1 170.6h0M429.2 182.6h0M357.9 223.6h0M476.5 198.5h0M402.7 180.6h0M410.9 182.7h0M362.4 227.8h0M406.7 196.4h0M428.1 220.2h0M441.9 180h0M430.6 169.2h0M478.6 173.6h0M416.8 194.3h0M362.1 245.4h0M359.2 222h0M459.8 160.4h0M480.6 187.7h0M430.1 174.6h0M378.7 188.5h0M371.9 217.6h0M400.4 176.8h0M415.5 215.7h0M421.1 161.6h0M428.7 216.6h0M362.5 210.7h0M430.8 243.2h0M423.8 218.1h0M449.4 203.8h0M406.7 171.3h0M434.8 213h0M464 167.7h0M406.9 193h0M378.4 224.1h0M480.6 173.8h0M449.3 239.2h0M438.3 222.8h0M443.9 163.5h0M417.5 247.1h0M438.4 177.4h0M375.3 210.6h0M471.3 204.1h0M422.3 155.4h0M413.2 159h0M468.2 163.3h0M455 197h0M414.4 158h0M422.3 211.7h0M457.5 159h0M423.7 155.6h0M357.7 245.1h0M430.1 158.7h0M451.8 188.4h0M361.6 184.2h0M456.3 224.7h0M429.9 223h0M473.8 196.9h0M463.2 166.1h0M437.5 210.6h0M419.4 250.9h0M409.8 167.2h0M418.7 228.1h0M408.5 188.9h0M431.4 255.2h0M387.5 172.5h0M404.9 159.8h0M400.2 219.7h0M406.4 216.4h0M375.5 177.9h0M421.6 195.6h0M414.1 234.8h0M481.2 172.2h0M361.3 238h0M417.9 214.8h0M450.8 157.8h0M421.7 183h0M368 185.6h0M436.8 236.7h0M363.6 211.7h0M483.6 176.2h0M476.5 197.6h0M390.7 244.7h0M428.3 235h0M459.9 200.3h0M377 197.6h0M419.5 216.2h0M437.1 221.2h0M358.7 181h0M376.6 207.6h0M422.5 211h0M411.9 254.1h0M458.5 184.3h0M407.6 177.7h0M439.5 195.1h0M407.2 200.3h0M440.6 253.4h0M478.4 155.3h0M478.4 172.5h0M454.8 153.4h0M470.1 186.3h0M409.2 177.9h0M479.7 163.5h0M488.7 167.5h0M489.4 169.3h0M366.5 212.7h0M484.1 188.9h0M405 178.3h0M436.1 244.1h0M373.9 189.2h0M472 202.9h0M366.3 223.3h0M418.9 226.1h0M375.8 205.2h0M475.1 203.4h0M390.2 191.9h0M386.9 178h0M451.1 185.6h0M413.8 192.4h0M418.7 250h0M451 182.8h0M464.2 188.1h0M430.4 205.7h0M425.8 210.5h0M412.2 192.8h0M406.1 240.2h0M458 180.7h0M443.1 230.8h0M362.6 221.2h0M464.7 190.3h0M363.2 182.2h0M464.6 196.7h0M436.3 233.4h0M424.5 213.8h0M457.9 185.9h0M452.8 168.5h0M405.2 173.7h0M473.5 168.5h0M448.3 159.8h0M396.8 167.6h0M383.6 181.8h0M454.4 167.2h0M466.5 174h0M393.3 192.9h0M428 197.2h0M462.2 245.5h0M451 213.1h0M360.8 188.9h0M429.3 195.9h0M427.1 155h0M387.5 219.5h0M484.6 175.6h0M410.1 162.7h0M394.3 176.1h0M401.2 172.3h0M390.2 197.3h0M431.6 197.7h0M425.5 240h0M488.9 182.3h0M446.2 156.2h0M368.5 223.7h0M409.4 180.5h0M418.9 190.1h0M371.8 212.1h0M473.8 197.6h0M447.1 213.7h0M400.3 177.5h0M415.8 242.5h0M401.1 209.1h0M473.6 177.6h0M364 206.6h0M379.2 178.8h0M409.9 159h0M485.2 249.2h0M490.1 185.2h0M375.7 213.8h0M467.1 191.5h0M437.8 158.1h0M365.1 186.6h0M454.9 200h0M377 180.6h0M444.2 238.7h0M476.9 169.8h0M398.5 216.6h0M419 207.5h0M404 187.9h0M433.3 234.6h0M448.5 240.6h0M465.1 192.8h0M372.3 226.2h0M438.2 248.6h0M442 253.2h0M474.4 193.5h0M389.3 194.1h0M369.2 223.1h0M440.2 249.9h0M402.9 181.2h0M394.4 200.2h0M483.4 153.8h0M445.7 214.8h0M400.2 212h0M407 229h0M418.2 164.4h0M411.7 154.3h0M471.4 153.9h0M483 159.3h0M369.6 222.8h0M410.5 240.3h0M450.5 171h0M364.7 214.3h0M446 218.4h0M410.9 230.7h0M424.5 206.4h0M410.9 167.9h0M379.2 254.8h0M456.8 197h0M428.5 203h0M487.6 166h0M464 206.3h0M454 196.8h0M455.1 210.8h0M426.9 165.6h0M397.3 204.1h0M426.5 176.6h0M413.6 170.1h0M483.1 191.5h0M400.1 242.9h0M419 156.8h0M367.6 231.5h0M470.8 203.7h0M404.8 246.5h0M474.3 202h0M430.7 154.7h0M422.8 157.3h0M412.5 250.3h0M377.6 207.3h0M453.5 173.7h0M423 211.1h0M443.3 172h0M419.3 202.4h0M423 202.3h0M466.6 188.7h0M459.5 183.1h0M423 224h0M374.4 161.3h0M388.7 216.6h0M401.4 217.4h0M390.2 180h0M441 176.5h0M490.1 184.2h0M438.9 239.7h0M425.5 157.8h0M361.6 229.1h0M363.3 201.8h0M442.2 234.3h0M392.1 191.2h0M454.3 216.3h0M363.3 201.3h0M411.4 184.7h0M437.2 253.7h0M438.2 238.7h0M390 229.3h0M488.5 195.3h0M436.1 225.1h0M457.2 215.5h0M439.7 225.5h0M416.2 189.3h0M488.6 163.4h0M389.4 189.7h0M470.9 173.1h0M430.6 215.3h0M427.9 254.1h0M393.4 207.5h0M469.1 195.2h0M438.2 254.5h0M398 180.9h0M359.3 241.7h0M472.3 160.2h0M377.6 250.5h0M404.1 230.7h0M381.1 228.2h0M432.9 209h0M459.6 202.9h0M406.7 221.5h0M417.4 214.4h0M466.9 251.4h0M442 183.8h0M440.2 235.3h0M375.6 207.4h0M427.6 205.8h0M435.1 231.1h0M424.1 209.5h0M358.3 197.6h0M462.7 179.4h0M427.1 199.3h0M487.2 158h0M451.5 169.7h0M438.2 214.7h0M364.1 250.3h0M441.2 245.6h0M448.3 183.4h0M368.8 189.2h0M370.1 191.5h0M372.1 209.9h0M377.1 188.5h0M448.3 190.4h0M480.3 176.8h0M483 185.3h0M424.4 197.4h0M485.8 201.9h0M428.1 178.4h0M443.3 250.6h0" stroke="#3e3e3e" stroke-width="1.6" stroke-linecap="round" fill="none"/>
<path d="M457.2 165.9h0M410.3 235.2h0M468.6 155h0M423.4 199.2h0M429.3 208.8h0M404.1 165.5h0M425.4 189.6h0M430.7 228.6h0M440.7 182.8h0M430.9 238.2h0M423.1 161.5h0M439.8 165.5h0M454.4 171h0M448.6 245.3h0M395.2 181.6h0M409.4 195.5h0M366.6 159.9h0M443 194.4h0M426.3 218.2h0M420 159.3h0M389 180.4h0M480.6 175.4h0M409.8 195h0M471.8 163.7h0M362.8 229.6h0M453.4 176.6h0M434.7 248.1h0M443.4 216.5h0M457.5 197.5h0M409.1 204.1h0M424.3 193.2h0M408 182.7h0M442.1 204.3h0M407.1 176.3h0M446 226.2h0M383.1 173.1h0M437.5 171.1h0M467.5 166h0M433.5 211.9h0M402.8 224.6h0M462.6 198.9h0M396.8 182.7h0M459.9 179.7h0M452 236.4h0M390 169.8h0M381.5 201.2h0M420.3 157.5h0M444.6 221.7h0M369.2 215.5h0M420.1 216.5h0M410 185.3h0M433.4 221h0M386.4 188.4h0M479.2 162.2h0M381.1 173.7h0M365.7 187.9h0M389.3 237.6h0M444.9 162.6h0M376.4 200.1h0M454.5 214h0M477.5 189.5h0M481.9 185.7h0M482.7 158h0M383.5 210.6h0M485.4 185.4h0M405.7 248.1h0M368.4 203.4h0M469.6 186.9h0M445.8 243.2h0M415.8 237.9h0M470.1 164.6h0M394.7 215.8h0M409 163.3h0M463.6 182.5h0M423.6 229h0M366.4 236.9h0M368 184.1h0M382.4 175.5h0M489.8 155.5h0M409.1 162.4h0M441.3 237.3h0M387.9 223.3h0M384.6 174h0M369.3 182.3h0M446.5 229.3h0M458.8 187.1h0M453.2 244.3h0M425.5 182.7h0M401.7 164.3h0M405.2 184.5h0M421.9 226.7h0M364.2 210.5h0M399.9 221h0M423.2 240.9h0M411.7 205.3h0M361.3 188.6h0M446.3 225.3h0M483.3 157.5h0M480.6 166.9h0M468.7 180.8h0M461.3 174.4h0M451.2 228.4h0M444.2 224.3h0M411.2 240.2h0M448.4 173.1h0M388.8 221.2h0M373 194.9h0M449.2 214.4h0M407 219.9h0M401.1 176.3h0M446.9 158.6h0M360.5 236h0M464.3 203.8h0M451.4 215.3h0M420.7 201.4h0M366.9 205.8h0M391 221.1h0M469.7 185.5h0M358.5 181.8h0M451.6 201.1h0M411.4 201.2h0M454.4 178.9h0M405.6 207.3h0M401.3 218.8h0M440.2 170.8h0M455.9 168h0M435.5 159.3h0M483.4 233.2h0M361.8 218.5h0M391.7 188.2h0M484.3 174.9h0M393.4 178.8h0M480.1 167.4h0M416.9 247.2h0M382.8 228.2h0M405.9 203.7h0M429.5 214.4h0M422.5 198.9h0M420.4 221.9h0M369.4 179.2h0M415.4 208.2h0M371 183.2h0M469.5 203.8h0M415.8 207.2h0M473.6 188h0M482.9 164.9h0M401.1 182.5h0M431.2 164.6h0M441.4 199.1h0M406.1 252h0M464.8 198.9h0M474.2 158.2h0M446.7 155.2h0M451.4 187.1h0M413.5 182.1h0M419.8 174.4h0M418 185.7h0M461.5 189.2h0M419.4 246.7h0M381.7 209.4h0M411.1 252.8h0M413.9 235.2h0M446.8 182.1h0M377.8 205.1h0M358 187.4h0M435.2 224.9h0M464.8 185.2h0M405.9 240.6h0M434 197.2h0M380.4 190.6h0M468.6 183.8h0M366.4 231.2h0M391.3 168.6h0M458 194.4h0M446.6 246.3h0M408.4 234.3h0M433.1 208.9h0M366.3 176h0M389.6 192h0M425.8 214.3h0M445.2 180.2h0M470 209h0M411.1 162.8h0M468.1 210.3h0M380.7 164.4h0M384.4 218h0M425.4 183.4h0M358.7 252.4h0M422 222.5h0M471.6 184.1h0M461 179.6h0M431.9 236h0M412.3 191.1h0M382.1 198.7h0M429.1 190.5h0M478 176.7h0M452.7 171.5h0M385.5 189.7h0M490.1 191h0M390.3 181.7h0M396.6 162.8h0M442.2 222.7h0M445.6 206.4h0M405.1 236.4h0M475.3 166.7h0M435 208h0M391.8 217.5h0M426.6 221.6h0M450 180.3h0M427 211.7h0M379.7 196.1h0M440.1 235.4h0M455.6 154.4h0M361.5 209.4h0M358.3 243.1h0M462.3 167.5h0M427.4 250.1h0M424.6 207h0M452.5 158.2h0M417.1 228.6h0M430.8 187.4h0M413.7 171.2h0M475.1 203.4h0M412.1 166.8h0M374.3 226h0M405.6 185h0M469.3 156.3h0M450.5 229.5h0M424.5 196.4h0M433.1 181.7h0M357.6 254h0M442.7 245.6h0M484.5 193h0M413.8 181.6h0M435.8 174.7h0M427.4 246.1h0M481.7 171.8h0M444.7 230.5h0M436.9 164.4h0M402.4 202.1h0M415.1 212h0M365.9 250.9h0M364.8 183.3h0M395.1 201.5h0M417.9 201.6h0M447.9 187.1h0M388.1 180.7h0M447.5 236.9h0M417.2 216.1h0M418.8 203.1h0M423.6 212.4h0M484.9 153.6h0M390.7 215.3h0M407.3 229h0M429.8 163.7h0M361.2 252.1h0M462.5 209.3h0M422.3 244.1h0M403.1 218.8h0M476.3 185.8h0M359.3 230.6h0M481.2 197.6h0M436.9 181.6h0M360.9 204.9h0M410.5 197.9h0M378.9 205.9h0M471.2 174.7h0M460.5 219.7h0M388.4 221.9h0M437.4 171.3h0M439.5 162h0M411.1 175.1h0M421.8 203.2h0M435.8 194.6h0M486.2 155.4h0M419.9 198.7h0M411.4 248.9h0M428.2 169.4h0M363.4 189.9h0M479.2 193.2h0M466 155h0M490.3 160h0M385.1 226.5h0M426.5 174.3h0M374.6 211.2h0M444.6 240.7h0M404.1 254.3h0M433.9 207.2h0M442.4 247.4h0M385.8 188.4h0M410.4 175.5h0M485.3 172.7h0M414.6 176.3h0M459.2 199.4h0M374.1 203.6h0M444.6 173.9h0M432.3 250.8h0M415.8 254.7h0M451.3 165.1h0M423.7 181h0M408.7 244.6h0M413.4 181.5h0M486.3 158.6h0M486.1 196.2h0M439.2 167.8h0M364.8 201.2h0M416.9 252.6h0M477 182.4h0M365.2 217.6h0M475.3 161.4h0M384.9 226.2h0M437.5 249.1h0M463.6 213.7h0M484.9 181.4h0M375.7 184.4h0M426.5 184h0M444.1 176.9h0M420.6 235.9h0M404.8 182.6h0M441.1 225.5h0M466.5 156.2h0M358.1 210.9h0M359.1 253.6h0M401.6 187.8h0M447 245.1h0M372.6 202.2h0M421.2 181.5h0M364.1 204h0M473.3 202.3h0M377 199.7h0M467.7 187.5h0M482.2 186.4h0M447 159.7h0M440.7 223.8h0M365.9 199.4h0M434.3 198h0M402.7 241.8h0M427.2 232.2h0M452.6 192.7h0M487.7 196.5h0M462.2 211h0M435.1 183.6h0M432.7 255.3h0M430.1 218h0M423.5 212.5h0M363.1 244.1h0M359.7 213.7h0M459.8 197.6h0M417.6 212h0M392.2 169.3h0M396.9 242.3h0M425.1 215.9h0M423.9 243h0M408.7 172.4h0M441.7 161.2h0M438.8 217.4h0M441.3 242h0M434.7 211.3h0M420.2 225.1h0M450.9 226.2h0M373.9 218.4h0M376.8 188h0M409.4 159.3h0M395.2 185.8h0M457.4 172.4h0M424.4 234.2h0M432.9 219.2h0M447.8 232.5h0M460.5 224.2h0M357.7 232.2h0M403.3 208.5h0M440 250.2h0M437.9 196h0M362.9 209.3h0M463.8 214.2h0M454.2 193.1h0M428.1 211.4h0M444.4 237.4h0M393.3 165.4h0M455.4 160.8h0M365 183.2h0M439.9 210h0M456.1 220.4h0M457.3 182.7h0M388.1 196.4h0M419.4 251.8h0M416.5 164.4h0M374.6 213h0M425.5 229.8h0M399.1 166.4h0M363.5 194.3h0M484.5 236.1h0M429.6 165.3h0M481.8 193.5h0M359.1 203h0M450.3 199.9h0M408 221.1h0M397.6 182.7h0M490.5 205.3h0M387.1 178h0M450.6 178.3h0M404.3 187.3h0M480 184.7h0M397.1 169.5h0M366.3 197.5h0M411.7 200.8h0M424.4 182.8h0M383.6 189.5h0M360.9 208.8h0M424.3 156.4h0M471.6 192.9h0M403.1 234.4h0M364.7 187.2h0M420.2 179.9h0M396.9 187h0M377.1 210.7h0M483.8 207h0M396.8 209.2h0M413.2 210.3h0M448.1 221.2h0M479.4 180.5h0M449.6 212.2h0M404.5 171.3h0M432.3 209.6h0M420.7 199.2h0M413.4 248.5h0M437.7 234.3h0M394.2 177.6h0M374.2 200.3h0M448.4 223.3h0M423.8 190.6h0M406.1 207.7h0M445 255h0M361.9 240.2h0M425 215.4h0M388.7 253.7h0M474.8 169.4h0M390.8 210.5h0M457.4 205.4h0M412.9 166.2h0M406.6 154.6h0M437.9 203.8h0M382 225.5h0M404.9 185.6h0M410.7 190.9h0M434.8 218.8h0M436.7 223.8h0M378.7 225.6h0M465.3 161.2h0M398.1 206.4h0M452.6 167.3h0M461.6 202h0M363.6 205.7h0M483.9 193.8h0M360.3 209.3h0M383.6 174.5h0M387.1 194.2h0M473 180.6h0M395.8 209.6h0M380.7 191.8h0M439.9 231.9h0M419.3 171.3h0M453.9 193.1h0M402.2 248.5h0M423.2 198.8h0M449 209.4h0M414.3 178.7h0M402 171.4h0M404.3 243.3h0M483.9 186.1h0M372.1 179.4h0M439.2 175.6h0M388.3 178.4h0M369.4 209.9h0M449.3 216.5h0M437.9 228.2h0M416.6 182.9h0M487.6 164.4h0M451.7 188.9h0M422.3 250h0M461.3 206.5h0M447.6 217.2h0M416 195.9h0M430.7 171.6h0M373.3 221.4h0M430.3 251.4h0M482.9 159.5h0M453.2 226h0M388.5 175.1h0M368.9 188.3h0M406.4 167.2h0M426.6 216.5h0M410.7 176.2h0M404.6 185.2h0M411.7 176.5h0M447.1 209.8h0M399.9 215.2h0M432.2 254.5h0M415.9 155h0M405 220.6h0M395.2 208.6h0M489.1 189.3h0M484.1 217h0M458.3 184.4h0M445.3 211.1h0M380.3 229.4h0M486.3 157.1h0M381.9 222.5h0M387.4 201.8h0M477.2 196.6h0M421.5 182.1h0M481.5 171.6h0M392.4 204.9h0M471.3 173.5h0M454.7 168.6h0M443.8 163.3h0M436.5 246.1h0M429.6 187.8h0M489.1 169.6h0M436 175.8h0M415.7 215.8h0M392.2 243.8h0M480.6 162.7h0M394.5 184.6h0M440.3 227.4h0M402 169.9h0M400.3 211.4h0M432.2 221.7h0M426.2 190.1h0M402.8 176.9h0M415.7 220.5h0M481.2 192.9h0M367 213.2h0M398 160.9h0M456.8 189.5h0M448.3 228.6h0M421.7 196.3h0M458.8 177.3h0M376.4 177.9h0M415 173.3h0M467.6 196.4h0M471.9 203.5h0M431.3 186.9h0M417.7 189.8h0M406.3 219.6h0M382.8 251.8h0M410.5 203.8h0M411.2 223.5h0M443.1 173.5h0M392.8 191.5h0M465.4 167.4h0M429.8 216.9h0M360.5 178.7h0M455 157.3h0M389.3 212h0M403.6 236h0M454.7 173.8h0M485.6 202h0M458.6 201.2h0M431.8 245.2h0M406.1 229.3h0M429.3 212.3h0M397.5 213.4h0M386.9 201.2h0M363.8 215.7h0M405.5 172.9h0M422.6 247.8h0M476.6 177.8h0" stroke="#3e3e3e" stroke-width="1.4" stroke-linecap="round" fill="none"/>
<path d="M389.8 181.1h0M427.3 184.3h0M418.4 201.6h0M453.4 176.5h0M462.4 245.1h0M389.9 159.7h0M428.3 173.7h0M403.6 249.2h0M449 190h0M426.8 153.5h0M370.4 197h0M411.1 172.3h0M487.7 166.8h0M481.7 153.5h0M407.2 246.1h0M436.4 238.3h0M452.4 241.9h0M392.1 208.5h0M445.6 211.8h0M489.3 160h0M407.2 208.9h0M432.5 208.4h0M448.2 240.2h0M482.4 229.7h0M425.5 213.2h0M426.3 217h0M360.7 178.7h0M426.4 222.7h0M473.7 154.9h0M413.3 170.6h0M485 187.1h0M424.5 240.9h0M379.2 175.8h0M364.6 187.2h0M479.7 168.9h0M466.2 199.3h0M405.6 253h0M389.1 207.6h0M401.6 201.9h0M365.4 188.2h0M462.2 238.1h0M470.6 177.6h0M402.4 218.1h0M406.3 234h0M428.5 215.5h0M389 218.3h0M435.9 195.4h0M471.5 183.4h0M403.3 248.7h0M368.8 220h0M389 186.5h0M467.5 205.3h0M464.1 178.8h0M415.6 221.1h0M396.6 180.4h0M407.5 221.1h0M432.8 255.3h0M489.6 193.5h0M465 211.5h0M407.4 248.8h0M480.4 179.5h0M369.6 160.3h0M359.3 182.6h0M443.3 231.9h0M378.9 210h0M411.2 170.4h0M368.4 210.6h0M425.3 156h0M412.9 158.8h0M395.8 188.8h0M394.8 207h0M359.7 204.7h0M456.4 202.1h0M396.2 190.3h0M389.4 189.5h0M380.1 183.2h0M428.4 240.9h0M448.9 196h0M410.7 223.4h0M484.4 173.1h0M420.8 181.3h0M414 215.7h0M412.2 191.9h0M431.8 218.2h0M457 228.1h0M391.1 202.9h0M447.1 243.7h0M477.9 202.8h0M413.5 236.2h0M436.3 173.5h0M442.2 168.8h0M376.6 225.6h0M472.9 196.1h0M414.7 181.1h0M403.2 245h0M416.5 239h0M403.6 207.9h0M451.7 165h0M441.9 180.3h0M436.9 253.9h0M459.9 213.5h0M479.5 196.8h0M358.5 223.5h0M426.1 192.1h0M435.2 193.3h0M439.8 206.4h0M421.7 233.9h0M457.6 255.2h0M453.7 173.1h0M411.4 205.4h0M421.3 196h0M430 209.2h0M387.4 173.2h0M363.7 221.1h0M425.8 181.7h0M387.5 225.2h0M421.5 200h0M414.2 180.7h0M415.3 192.5h0M469.7 165.4h0M438.3 162.9h0M489.8 202.3h0M475.6 155h0M377.7 187.4h0M439.9 154.2h0M430.7 153.6h0M467.4 213.9h0M393.3 171h0M417.7 181.5h0M405.8 169.7h0M456.1 223.4h0M430.2 187.2h0M436.1 247.3h0M378.6 198.6h0M369.2 211.7h0M488.6 185.9h0M464.4 177h0M420.2 167.9h0M436.6 224.2h0M461 170.9h0M423.6 253.2h0M409.3 203.2h0M467.8 161.6h0M373.8 182.5h0M450.9 212.6h0M402.7 231.6h0M362.4 222.1h0M406.8 188.1h0M410.8 249.4h0M441.8 251.1h0M445.5 218.7h0M408.3 244h0M411.3 191h0M415.8 219.3h0M409.5 253.4h0M438.1 185.4h0M404.1 213.3h0M403.9 214.8h0M422 181h0M478.6 198.3h0M414.3 178h0M358.6 226.6h0M394.2 226.6h0M444.1 222.2h0M482.9 161.6h0M367.9 204.4h0M463.8 181h0M469.1 155.3h0M457.5 162.5h0M453.6 175.2h0M475.2 167h0M481.7 196.8h0M442.6 227h0M482.3 185.4h0M421.7 195.1h0M406.6 185.2h0M452.2 176.4h0M440.5 216.3h0M414.9 214.9h0M435.2 180.1h0M446.9 229h0M471.8 191.4h0M420.6 238.3h0M418.8 181.3h0M418.1 203.4h0M409.1 223.9h0M425.5 191.2h0M460.9 166.4h0M386.2 195.2h0M469.2 163.6h0M413.8 228.4h0M415.1 234.2h0M427.1 206.9h0M455.9 225.7h0M466.3 195.3h0M410.6 168.2h0M464.6 161.3h0M423.9 252h0M457.1 180.9h0M413.6 194.9h0M359.6 190.2h0M359.8 183.6h0M417.4 254.8h0M438.3 184.8h0M421.5 253.5h0M421.1 181.6h0M444.1 181h0M374.9 225.5h0M486.1 175.3h0M387.1 190.8h0M460.9 223h0M414.3 178.1h0M414.7 200.1h0M384.7 233.7h0M361.5 216.7h0M459.4 187.1h0M365.6 188.5h0M464.6 186.9h0M411.9 222.2h0M369.2 177.3h0M448 207.2h0M363.5 250.3h0M421.1 239.2h0M411.5 172.5h0M385.7 214.1h0M407.4 245.1h0M376.9 180.4h0M448.8 215.2h0M376.9 220.3h0M409.5 219.7h0M424.8 220h0M447.7 236.7h0M450.3 232.3h0M490.4 158.4h0M444.4 154.6h0M408.2 153.8h0M477.9 155.2h0M407.7 158.7h0M416.1 170.8h0M417.8 253.5h0M411.5 220.3h0M360.2 180.5h0M414.6 215.9h0M361.9 242.7h0M434.3 244.1h0M476 167.4h0M368.6 204.7h0M434.9 208.8h0M361 209.3h0M432.9 159.3h0M366.6 205.7h0M422.9 205.9h0M483.8 176.3h0M413 183.9h0M451.7 172.1h0M426 190h0M361.4 177.2h0M361.3 255.2h0M445.8 218.7h0M366.1 202.9h0M406.3 217.1h0M443.5 231.8h0M393.2 178.8h0M417.5 160.7h0M490.4 180.4h0M384.1 201.5h0M429.2 227.3h0M441.6 246.4h0M407.3 158.3h0M433 236.4h0M420.1 183.3h0M391.5 210.1h0M447.6 217.6h0M397.8 197.5h0M419.1 234.2h0M398.7 167.9h0M388.8 190.7h0M407.3 204.1h0M433.5 212.7h0M395.1 170.3h0M417.5 159.6h0M463.6 198.5h0M416.6 233.5h0M420.1 215.3h0M453.8 221.7h0M483.5 160h0M389.7 195.8h0M362.2 223.7h0M460.5 250.8h0M430.5 196.3h0M414.1 156.7h0M462.4 207.2h0M422.6 249.4h0M405.5 217.2h0M466.6 194.4h0M357.9 181.4h0M414.3 253.6h0M357.7 224h0M470.6 162.2h0M441.6 155.6h0M474.2 187.2h0M426.3 238.5h0M403.9 206.5h0M456.8 221.6h0M469.9 239.6h0M482.7 192.5h0M373.7 210.7h0M488.4 196.2h0M374.6 192.6h0M431.4 198.7h0M410.2 244.6h0M413.8 179.3h0M459.6 189.6h0M413.9 179.3h0M378.2 190.9h0M392.8 203h0M372.2 190.3h0M408 155.5h0M470.1 184.4h0M485.2 159.7h0M390.2 206.7h0M426.6 250.4h0M431.7 155.7h0M468.1 203.4h0M455.3 155.3h0M391.8 189.4h0M364.1 225.7h0M453 155.7h0M452.6 210.6h0M360.5 253.4h0M371.1 207.9h0M455.6 179.1h0M466.3 189.2h0M423.5 216.4h0M384.2 206.5h0M471.3 179.7h0M417.3 246.3h0M423.6 246.3h0M407.5 254.4h0M452.6 234.7h0M388.5 203.2h0M402.1 168.8h0M483.3 171.8h0M474.7 198.4h0M380.4 201.9h0M398.9 177.2h0M415.9 207.6h0M372.6 206.9h0M387.8 201.2h0M423.8 185.3h0M433.7 177.8h0M443.8 173.9h0M403.6 242.1h0M391.4 196.1h0M466.9 211.6h0M426.1 216.6h0M482.7 194.3h0M441.6 236.5h0M395.3 170.5h0M487.8 172.2h0M487.1 168.6h0M443.7 207.8h0M417.6 158.6h0M429.7 247.4h0M400.3 179.7h0M361.5 219.1h0M437.9 189.5h0M415.8 240.4h0M418.4 161.5h0M375.8 187.8h0M443.9 158.1h0M428.9 170.8h0M467.3 183.4h0M484 185h0M465.5 207.6h0M370.8 199.1h0M393.7 210.9h0M472.6 185.2h0M403 155.9h0M447.9 178.4h0M438.6 230h0M414.3 238.6h0M459.4 214.6h0M452.4 201.6h0M389.3 222.8h0M381 197.8h0M466 168h0M479 186.9h0M373.5 195.2h0M465.7 205h0M414 216.6h0M428.4 207h0M361.4 207.9h0M372.7 196.4h0M449.6 222.6h0M411.6 181.2h0M395.7 203.3h0M459.8 197.7h0M446.9 212.6h0M408.7 178.5h0M384.1 195.4h0M423 191.7h0M418.8 204.4h0M428.3 161.9h0M433.4 223.3h0M408 155h0M414.5 179.1h0M440.4 251h0M450.7 171.1h0M432.9 206.4h0M388.5 209.8h0M439.9 223.6h0M414.9 220.1h0M454 182.7h0M410.8 154.5h0M434.2 228.7h0M474.5 187.8h0M450 201.5h0M436.8 214.2h0M364.8 189.3h0M425.2 190.6h0M399.4 176.1h0M444.4 186.3h0M392.5 206.8h0M439.9 255.3h0M425.4 187.3h0M404.3 219.8h0M463 188.3h0M434.7 235.9h0M443.2 249.6h0M487.5 191.4h0M487.9 187.1h0M373.2 211.4h0M448.6 208.8h0M388.4 209.5h0M436.3 236.7h0M394.8 190.1h0M368.2 178.9h0M421.2 216.3h0M441.4 171.8h0M401.1 198.3h0M372.9 184.8h0M449.2 219.8h0M401.3 169.4h0M386.6 221.9h0M373.2 194.5h0M365.3 180.2h0M484.7 190.2h0M453.9 225.4h0M433.5 169.8h0M382.4 174h0M438.3 169.6h0M361.3 197.4h0M410.7 249.6h0M383.8 193.5h0M466.5 239.3h0M454.4 213.1h0M365.5 210.6h0M443.7 160.7h0M405 169.6h0M419.5 231.3h0M411.7 219.4h0M410.3 252.9h0M464.4 214.2h0M489.6 169.1h0M483.5 167.7h0M370.8 179.9h0M451.9 225.4h0M369.8 185.3h0M392.4 209.5h0M464.7 212.3h0M360 189.8h0M462.1 214.7h0M422.2 176h0M469.3 197.4h0M362.4 221.3h0M412.6 198.6h0M393.4 194.9h0M360.9 184.2h0M432 159.6h0M422.9 250.5h0M468.4 190.8h0M461.1 220h0M405.5 233h0M437.4 214.1h0M486 203.3h0M389.7 170.2h0M452.1 214.1h0M412.1 183.7h0M449.7 187.8h0M487.2 164.6h0M433.7 225.7h0M405.6 158.2h0M413.1 174.7h0M382.5 203h0M412.2 233.8h0M402.7 207.2h0M479.7 175.8h0M381.5 194.9h0M484.3 178h0M461.5 185.2h0M374.6 207.5h0M428.1 196.1h0M422.7 232.5h0M481.1 195.6h0M454.5 153.7h0M406.5 203.1h0M379.8 202.7h0M421.5 208h0M372.4 191h0M405.7 197.2h0M481.8 182.8h0M368.2 216.1h0M469.9 180.6h0M363.1 209.4h0M394.5 175.2h0M465.5 184.3h0M416.1 224.4h0M438.4 239.5h0M403.8 251.4h0M411.4 181.7h0M477.6 167.9h0M361.2 200.2h0M362.1 249.9h0M373.9 172.9h0M400.1 233.8h0M435.8 201.5h0M409.5 186h0M484.4 187.7h0M390.6 195.1h0M443.6 243.4h0M463.6 194.6h0M425.5 203.1h0M489.5 205h0M488 193.4h0M432.9 154.5h0M399.3 216.5h0M388.1 209h0M393.5 169.9h0M449.4 218.1h0M461.9 216.9h0M382.7 199.6h0M412.6 246.1h0M435.2 238.8h0M374.9 183.5h0M372 199.2h0M418.5 183.7h0M483 167.5h0M385.9 176.1h0M480.4 160.8h0M425.1 177.6h0M392.4 182.2h0M364.7 226h0M409.7 197.2h0M412.3 197.9h0M396.3 186.8h0M453.1 198h0M412.7 251.2h0M413.8 175.3h0M405.6 232.9h0M447 175h0M425 231.2h0M430.3 241.1h0M436 164h0" stroke="#3e3e3e" stroke-width="1.8" stroke-linecap="round" fill="none"/>
<path d="M399.6 159.2h0M359.5 208.6h0M379.2 203.8h0M454.5 200.5h0M393.5 212.8h0M462.8 176.6h0M440.4 172.5h0M379.3 192.4h0M443.7 215.6h0M430.2 230.6h0M404.2 220.3h0M430.3 156h0M473.6 188h0M448.6 161.8h0M479.5 244h0M360.8 244.8h0M402.3 164h0M436.7 176h0M419.4 246.2h0M415.4 168.5h0M471.3 229.9h0M399.2 180.4h0M380.3 183.5h0M374.6 224.7h0M397.9 187.2h0M434.3 173.6h0M434.2 205h0M414.7 204.3h0M403.1 186.6h0M466.6 169.5h0M485.3 186.8h0M460 161.6h0M396.2 200.2h0M379.6 194.2h0M432.8 200.8h0M456.7 167.3h0M361.9 206.2h0M407.9 159.9h0M441.5 237.9h0M445.3 154.8h0M421.9 210h0M465 206.7h0M394.3 192.7h0M418.2 232.7h0M460.4 163.2h0M406.1 197.9h0M376 191.3h0M418.7 199.7h0M424 174.2h0M453.3 175.6h0M445 183.5h0M430.7 224.6h0M427.4 226.8h0M435.6 192.9h0M469.3 191.7h0M395.5 180.6h0M401.9 179h0M366.2 217.7h0M418.8 180.7h0M430.3 231h0M424.9 227.9h0M466.7 172.7h0M400 187.6h0M462.1 172.2h0M388.9 208h0M389.5 176h0M443 168.4h0M428.7 210.7h0M438.5 209.8h0M431.9 249.5h0M373.4 198.9h0M366.5 191.8h0M441.2 202.9h0M411.6 253.1h0M392.1 170.3h0M458.3 207.5h0M446.6 205.5h0M464.3 211h0M414.6 163.3h0M447.9 231.8h0M372.6 185.4h0M388.4 209h0M399.6 172.3h0M361.7 216.8h0M386.9 184.3h0M410.1 189.4h0M386.6 187h0M393.3 201.4h0M463.1 177.2h0M385.4 220.3h0M455.2 254.9h0M425.5 213.7h0M467.1 170.5h0M485.2 190.5h0M490 189.8h0M361.6 249.7h0M368.5 180.6h0M474.5 161.5h0M357.5 248.8h0M431 210.1h0M421.8 174.2h0M419.9 220.8h0M410.5 196.9h0M414.5 234.8h0M414.6 217.6h0M478 193.2h0M425.7 230.6h0M358.1 187.9h0M435.6 211.1h0M432.5 198.6h0M429.4 183.6h0M448.1 182.9h0M443.4 172h0M428.2 223.5h0M415.2 158.8h0M377.9 172.8h0M397.8 217.6h0M362.1 245.8h0M463.5 159.2h0M371.9 229h0M399.4 216.7h0M400.6 233h0M414.8 215.9h0M405 237h0M484.2 199.2h0M413.8 154.5h0M374.3 209.7h0M409 176.9h0M427.5 227.5h0M397.1 242.9h0M473.6 188.9h0M401.4 172.6h0M394.7 206.3h0M484.9 196.2h0M404.1 187.9h0M431.9 169.5h0M450.2 170.4h0M394.1 192.6h0M385.3 198.5h0M407.3 203.2h0M357.7 204.8h0M444.3 183.6h0M445.3 227.7h0M426.4 182.4h0M431.8 230.6h0M438.7 167h0M443 176.2h0M456.4 186.1h0M384.1 210.8h0M376 173.8h0M404.5 173.4h0M415.5 201.7h0M457.6 218.3h0M461.8 187h0M422.4 200.2h0M414.9 166.9h0M466.8 181.3h0M383.8 187.3h0M470.6 194.5h0M396.4 172.7h0M409.9 167.5h0M369.9 211.1h0M444 200.7h0M373.7 179h0M432.7 172.5h0M430.6 249.7h0M458.2 203.8h0M413.3 211.9h0M483.3 196.8h0M407.4 222.2h0M424.2 221.8h0M430.3 239.2h0M449.8 224.7h0M410 231.6h0M359.3 202.4h0M474.8 170.6h0M481.8 154.6h0M358.5 230.1h0M373.5 193.3h0M372.1 209h0M379.2 233.5h0M389.2 169.1h0M437.4 174.6h0M403.9 161.8h0M444.4 156.9h0M456.5 223.9h0M409.5 231.9h0M474.5 243.9h0M384.5 204h0M440.7 182.5h0M407.8 242.7h0M419.7 214h0M480.8 187.6h0M417.1 160.1h0M432.3 235.3h0M361.3 201.3h0M447.5 238.7h0M401.9 196.8h0M484.2 188.1h0M480.4 171.3h0M425 201.5h0M469.6 184.6h0M376.9 178.9h0M429.3 153.8h0M410.5 188.6h0M403.1 171.9h0M441.2 178.6h0M365.9 204.3h0M460.6 168.4h0M478.3 176.7h0M366.5 226.6h0M395.7 183.5h0M452.4 156.7h0M467.2 177.5h0M420.1 226.4h0M454.8 171.5h0M375.4 216.5h0M434.3 226.5h0M437.5 173.6h0M380.9 228.3h0M383.6 182h0M434.9 228h0M417.6 189.1h0M474.8 177.1h0M420.4 228.2h0M438.7 246.6h0M373.1 188.3h0M432.9 241.6h0M451.7 169.4h0M472.4 177.4h0M411.8 172.6h0M478.7 222h0M424.2 197h0M403.3 192.4h0M428.4 244.2h0M377.6 220.2h0M440.2 161.1h0M412.7 192.2h0M440.5 247.7h0M413.2 241.3h0M425.4 228.8h0M446.4 218.4h0M432.1 224.2h0M360.7 195.2h0M447.1 243.9h0M413.7 155.6h0M401.2 213.9h0M389.5 215.2h0M380.1 191.8h0M357.8 219.4h0M364.4 232.6h0M433.2 154.2h0M450.5 225.2h0M370.5 209.4h0M414.3 167.5h0M390.6 217.8h0M426.2 195.4h0M448.1 173.7h0M363.1 249.7h0M432.3 173.1h0M375.8 222.3h0M380.1 206.6h0M363.4 198h0M439.5 199.4h0M415.2 237.6h0M387.5 183.7h0M468.4 210.4h0M446.9 202h0M457.6 190.3h0M429 215.9h0M417.5 186.9h0M360.9 232.9h0M434.1 229.1h0M364.3 187.5h0M485 190.5h0M486.8 182.1h0M436.6 230.4h0M395.9 167.3h0M411.6 232.9h0M437.6 219.2h0M413.9 252.1h0M460.7 193.5h0M393 217.3h0M436.5 208.9h0M403.4 178.2h0M436.9 196.8h0M470.6 205.5h0M368.7 227.2h0M366.4 249.8h0M447.3 210.8h0M437.6 156.7h0M377.6 228.6h0M438.8 216.5h0M423.6 173.9h0M487.9 153.6h0M424.6 222.2h0M433.4 210.1h0M377.7 193.5h0M450 218.2h0M450.7 200h0M414.3 241.2h0M438.2 153.5h0M373 196.7h0M366.5 216h0M452 172.1h0M390.5 187.5h0M390 191.4h0M360 216.3h0M390.1 188.4h0M478.2 158.3h0M488.9 160.2h0M372.1 228.5h0M385.6 239.9h0M369.9 184.3h0M489.9 172.5h0M420.5 166.5h0M414.5 222.5h0M361.6 185.4h0M465.4 172.7h0M426.9 191.1h0M416.1 210.8h0M443.4 173.9h0M362 179.6h0M474.7 169h0M368.8 223.7h0M456 177.9h0M388 171.8h0M474.7 153.4h0M409.2 169.3h0M401.3 216.7h0M410.2 162.6h0M388 180.3h0M380.4 233.5h0M369.9 208.1h0M453.7 222.7h0M420.1 238.1h0M481.8 176.5h0M427.9 224h0M417.4 156.9h0M442.6 255.1h0M391.1 199.5h0M444.8 177.3h0M392.4 211.7h0M405.1 234.7h0M365.4 224.8h0M369.6 186.4h0M400.6 158.1h0M450.6 211.4h0M415.8 228.1h0M397.1 171.5h0M430.3 178.1h0M436.7 208.9h0M427.5 186.1h0M440.9 175.2h0M484.1 179.9h0M442.3 235.3h0M442.3 153.6h0M458.3 202.2h0M437.5 163.5h0M358.5 249.1h0M422.2 176.2h0M360.7 178.4h0M412 170h0M415.8 240.4h0M412.5 199.4h0M432.6 250.1h0M384 170.7h0M383 196.3h0M373.2 224.3h0M402.7 201.8h0M482.6 162.1h0M439.3 213.3h0M413.5 164.3h0M419.5 175.1h0M486.4 156.2h0M428.7 224.5h0M424.8 227.2h0M408.2 180h0M382.2 170.1h0M448.7 225.2h0M444.8 228.9h0M433.4 237h0M359.7 207.7h0M390.6 175.1h0M408.8 182.5h0M360.9 217.7h0M392.6 188.9h0M441.4 206.4h0M487.7 191.4h0M455.7 186h0M411 161.2h0M414.3 254.3h0M365.9 182.9h0M410.8 233h0M388.1 180.3h0M439 176.2h0M440.4 216h0M444.6 216.7h0M478.7 174.6h0M432.6 219.7h0M478.8 183.8h0M375.8 211.5h0M396.7 202.1h0M383.3 195.2h0M417.8 173.7h0M398.6 169.2h0M380.1 181.1h0M434.9 161.3h0M469.9 207.8h0M426.3 250.4h0M480.8 193.5h0M452.5 159.6h0M482.6 174h0M371.8 223.3h0M457.2 240.6h0M427.7 227.4h0M390.9 198.9h0M475 192.1h0M427.5 169.6h0M478.1 203.5h0M438.1 240.4h0M399.6 188.6h0M464.8 189.2h0M405.6 199h0M420.1 169.4h0M402.8 244.7h0M448.8 167h0M478.1 183.9h0M433.9 220.3h0M387.6 168.3h0M392.6 184.9h0M393.7 182.1h0M434.4 193.4h0M409.3 233h0M443.5 222.2h0M448 192.2h0M451 159.2h0M389.1 168.7h0M408.2 176h0M442.9 202.6h0M361 238.2h0M489.9 191.2h0M484 203h0M382.1 185.9h0M374.5 202.6h0M364.8 205.9h0M486 164.9h0M360.2 222.1h0M415.9 213.5h0M421.8 182.1h0M462.9 203.3h0M452.2 234.2h0M389.6 191.7h0M451.3 170h0M407.1 170.9h0M450.4 221.1h0M369 177.4h0M485.7 187.3h0M416.6 244.1h0M454.3 206.4h0M414.9 243.5h0M388.2 218.1h0M377.7 199.2h0M433.3 210.4h0M401.6 192.4h0M395.9 183h0M475.9 169.9h0M441.5 227.6h0M470.5 178h0M446.8 176.4h0M482.1 172.2h0M407 198.5h0M380.9 208.3h0M464.6 216.5h0M453.3 156.8h0M363.5 193.9h0M373.5 209.2h0M387 186.2h0M453.5 192.9h0M403.6 240.2h0M409.9 188.6h0M399.8 211.3h0M467.9 189.1h0M456.2 200.7h0M432.5 175.9h0M402.5 204h0M446.6 212.1h0M447.7 207.6h0M469.4 199.1h0M484.6 186.4h0M472.5 168.1h0M425.1 199.8h0M406.6 241.7h0M415.2 167.4h0M484 158h0M417.7 211.9h0M418.9 214h0M361.6 199.6h0M439 169.6h0M466 214.6h0M364.6 190.4h0M377.8 192.2h0M473.1 170.9h0M454.6 160.7h0M480.9 174.8h0M484 177.9h0M485.7 203.4h0M444.6 200h0M422.8 190.2h0M459.3 193h0M360.1 215.6h0M411.8 221.1h0M419.3 208.9h0M470.1 183.3h0M434.6 178h0M426.1 219.2h0M463.7 196.3h0M402.6 181.9h0M425.8 159.5h0M463.4 175.8h0M359 230.3h0M480.8 153.6h0M385.8 211.6h0M382.9 196h0M450.4 219.9h0M449.6 156.8h0M424.3 247.7h0M362.8 197.3h0M359.5 205.3h0M391.3 176h0M364.5 218.6h0M394.8 214.7h0M470.2 193.1h0M435.7 240.3h0M359.7 238.2h0M407 170.7h0M487 158h0M377.4 182.9h0M467.9 173h0M406.4 251.9h0M402.2 223.4h0M470.5 211.5h0M415.2 153.8h0M383.7 191.9h0M361.5 184.4h0M489.6 189.7h0M420.2 247.2h0M433 213.7h0M468.5 175.8h0M421.4 254.5h0M430.9 249.1h0M436 159.3h0M403.5 233.6h0M365.4 160.6h0M408.3 205.9h0M425.4 248h0M477.4 195.2h0M429.9 214.8h0M378.8 189.5h0M407.8 243.8h0M415.9 189h0M487.9 160.9h0M451.6 213.5h0M425.2 157.6h0M454.4 198.5h0M358.2 215.1h0M467.9 175.8h0M405.2 247.4h0M416.9 211h0M439.9 171.2h0M415.6 254.5h0M451.3 233.1h0M370.3 253.3h0M406.1 212.7h0M430.1 243.2h0M402 185.2h0M417.8 233.3h0M372.4 188.9h0M489.5 187.7h0M371.3 196.2h0M436.4 222.3h0M458.2 154.6h0" stroke="#3e3e3e" stroke-width="1.2" stroke-linecap="round" fill="none"/>
</g>
<filter id="b33" x="-5%" y="-5%" width="110%" height="110%"><feGaussianBlur stdDeviation="0.4"/></filter>
<filter id="grain33" x="0" y="0" width="100%" height="100%"><feTurbulence type="fractalNoise" baseFrequency="0.35" numOctaves="2" seed="33"/><feColorMatrix type="matrix" values="0 0 0 0 1  0 0 0 0 1  0 0 0 0 1  3 0 0 0 -1.3"/></filter>

</g>
<text x="457.2" y="247.3" font-size="10.6" text-anchor="start" fill="#1a1a1a" stroke="#1a1a1a" stroke-width="0.35">100nm</text>
<line x1="462" y1="249" x2="486" y2="249" stroke="#333" stroke-width="0.8"/>
<rect x="197.7" y="18.2" width="112.8" height="102.1" fill="none" stroke="#777" stroke-width="0.9"/>
<rect x="281" y="18.7" width="28.5" height="64.3" fill="#f0efec"/>
<linearGradient id="pg1" x1="0" y1="0" x2="1" y2="0"><stop offset="0" stop-color="#dd7a94"/><stop offset="0.2" stop-color="#d8708c"/><stop offset="1" stop-color="#d8708c"/></linearGradient>
<rect x="282.7" y="18.7" width="24.5" height="22.3" fill="#f6f4ee"/>
<path d="M282.7 41.0 H307.2 V69 A12.2 12.2 0 0 1 282.7 69 Z" fill="url(#pg1)"/>
<rect x="282.7" y="40.2" width="24.5" height="1.5" fill="#3e1624" opacity="0.9"/>
<path d="M281.2 18.6 H288.8 Q284 19.5 282.4 24.8 L281.2 24.8 Z" fill="#7c828f"/>
<rect x="306.2" y="32" width="1.3" height="9" fill="#d37690"/>
<line x1="197.7" y1="120.3" x2="199.2" y2="120.3" stroke="#777" stroke-width="0.8"/>
<text x="194.8" y="123" font-size="7.6" text-anchor="end" fill="#333" >0.0</text>
<line x1="197.7" y1="89.4" x2="199.2" y2="89.4" stroke="#777" stroke-width="0.8"/>
<text x="194.8" y="92.1" font-size="7.6" text-anchor="end" fill="#333" >0.3</text>
<line x1="197.7" y1="58.5" x2="199.2" y2="58.5" stroke="#777" stroke-width="0.8"/>
<text x="194.8" y="61.2" font-size="7.6" text-anchor="end" fill="#333" >0.6</text>
<line x1="197.7" y1="27.6" x2="199.2" y2="27.6" stroke="#777" stroke-width="0.8"/>
<text x="194.8" y="30.3" font-size="7.6" text-anchor="end" fill="#333" >0.9</text>
<line x1="197.7" y1="120.3" x2="197.7" y2="118.8" stroke="#777" stroke-width="0.8"/>
<text x="197.7" y="129.2" font-size="7.6" text-anchor="middle" fill="#333" >400</text>
<line x1="235.3" y1="120.3" x2="235.3" y2="118.8" stroke="#777" stroke-width="0.8"/>
<text x="235.3" y="129.2" font-size="7.6" text-anchor="middle" fill="#333" >500</text>
<line x1="272.9" y1="120.3" x2="272.9" y2="118.8" stroke="#777" stroke-width="0.8"/>
<text x="272.9" y="129.2" font-size="7.6" text-anchor="middle" fill="#333" >600</text>
<line x1="310.5" y1="120.3" x2="310.5" y2="118.8" stroke="#777" stroke-width="0.8"/>
<text x="310.5" y="129.2" font-size="7.6" text-anchor="middle" fill="#333" >700</text>
<text x="254" y="137.3" font-size="7.6" text-anchor="middle" fill="#333" >Wavelength (nm)</text>
<text transform="translate(180.6 69.3) rotate(-90)" font-size="7.4" text-anchor="middle" fill="#333">Absorbance</text>
<path d="M197.70 73.44 L198.27 73.61 L198.83 73.78 L199.40 73.94 L199.97 74.08 L200.53 74.22 L201.10 74.34 L201.67 74.46 L202.23 74.56 L202.80 74.66 L203.37 74.74 L203.94 74.82 L204.50 74.89 L205.07 74.96 L205.64 75.01 L206.20 75.06 L206.77 75.10 L207.34 75.14 L207.90 75.17 L208.47 75.19 L209.04 75.21 L209.60 75.22 L210.17 75.23 L210.74 75.24 L211.30 75.24 L211.87 75.23 L212.44 75.20 L213.00 75.15 L213.57 75.09 L214.14 75.02 L214.71 74.93 L215.27 74.83 L215.84 74.72 L216.41 74.59 L216.97 74.46 L217.54 74.31 L218.11 74.16 L218.67 74.00 L219.24 73.84 L219.81 73.66 L220.37 73.49 L220.94 73.31 L221.51 73.10 L222.07 72.84 L222.64 72.55 L223.21 72.22 L223.77 71.85 L224.34 71.45 L224.91 71.01 L225.47 70.54 L226.04 70.04 L226.61 69.51 L227.18 68.95 L227.74 68.36 L228.31 67.73 L228.88 66.97 L229.44 66.08 L230.01 65.07 L230.58 63.98 L231.14 62.80 L231.71 61.56 L232.28 60.28 L232.84 58.98 L233.41 57.66 L233.98 56.36 L234.54 55.08 L235.11 53.84 L235.68 52.59 L236.24 51.25 L236.81 49.86 L237.38 48.46 L237.95 47.09 L238.51 45.78 L239.08 44.57 L239.65 43.51 L240.21 42.58 L240.78 41.63 L241.35 40.72 L241.91 39.98 L242.48 39.53 L243.05 39.47 L243.61 39.69 L244.18 40.12 L244.75 40.70 L245.31 41.37 L245.88 42.09 L246.45 43.00 L247.01 44.21 L247.58 45.65 L248.15 47.26 L248.72 48.99 L249.28 50.78 L249.85 52.66 L250.42 54.84 L250.98 57.23 L251.55 59.73 L252.12 62.22 L252.68 64.59 L253.25 66.76 L253.82 68.90 L254.38 71.05 L254.95 73.15 L255.52 75.21 L256.08 77.17 L256.65 79.03 L257.22 80.74 L257.78 82.30 L258.35 83.72 L258.92 85.07 L259.48 86.36 L260.05 87.59 L260.62 88.76 L261.19 89.88 L261.75 90.94 L262.32 91.95 L262.89 92.92 L263.45 93.85 L264.02 94.74 L264.59 95.62 L265.15 96.47 L265.72 97.31 L266.29 98.13 L266.85 98.93 L267.42 99.71 L267.99 100.46 L268.55 101.19 L269.12 101.90 L269.69 102.58 L270.25 103.23 L270.82 103.85 L271.39 104.45 L271.96 105.01 L272.52 105.54 L273.09 106.03 L273.66 106.50 L274.22 106.95 L274.79 107.38 L275.36 107.79 L275.92 108.20 L276.49 108.58 L277.06 108.96 L277.62 109.32 L278.19 109.68 L278.76 110.02 L279.32 110.35 L279.89 110.67 L280.46 110.99 L281.02 111.29 L281.59 111.59 L282.16 111.88 L282.73 112.17 L283.29 112.46 L283.86 112.73 L284.43 113.01 L284.99 113.28 L285.56 113.56 L286.13 113.83 L286.69 114.10 L287.26 114.37 L287.83 114.63 L288.39 114.90 L288.96 115.16 L289.53 115.41 L290.09 115.66 L290.66 115.91 L291.23 116.15 L291.79 116.38 L292.36 116.61 L292.93 116.83 L293.49 117.04 L294.06 117.24 L294.63 117.43 L295.20 117.61 L295.76 117.78 L296.33 117.93 L296.90 118.08 L297.46 118.21 L298.03 118.34 L298.60 118.47 L299.16 118.60 L299.73 118.72 L300.30 118.85 L300.86 118.97 L301.43 119.08 L302.00 119.20 L302.56 119.31 L303.13 119.42 L303.70 119.52 L304.26 119.62 L304.83 119.71 L305.40 119.80 L305.97 119.88 L306.53 119.96 L307.10 120.03 L307.67 120.09 L308.23 120.15 L308.80 120.20 L309.37 120.24 L309.93 120.27 L310.50 120.30" fill="none" stroke="#e8303a" stroke-width="1.25" stroke-linejoin="round" opacity="1"/>
<rect x="193.6" y="154.2" width="118.8" height="99.4" fill="none" stroke="#777" stroke-width="0.9"/>
<rect x="285.7" y="154.6" width="24.6" height="62.4" fill="#f0efec"/>
<linearGradient id="pg2" x1="0" y1="0" x2="1" y2="0"><stop offset="0" stop-color="#d47a94"/><stop offset="0.2" stop-color="#c95a7b"/><stop offset="1" stop-color="#c95a7b"/></linearGradient>
<rect x="287.0" y="154.6" width="21.6" height="18.9" fill="#f6f4ee"/>
<path d="M287.0 173.5 H308.6 V205.2 A10.8 10.8 0 0 1 287.0 205.2 Z" fill="url(#pg2)"/>
<rect x="287.0" y="172.7" width="21.6" height="1.5" fill="#3e1624" opacity="0.9"/>
<line x1="193.6" y1="253.6" x2="195.1" y2="253.6" stroke="#777" stroke-width="0.8"/>
<text x="191.6" y="256.4" font-size="7.8" text-anchor="end" fill="#333" >0.0</text>
<line x1="193.6" y1="226.9" x2="195.1" y2="226.9" stroke="#777" stroke-width="0.8"/>
<text x="191.6" y="229.7" font-size="7.8" text-anchor="end" fill="#333" >0.2</text>
<line x1="193.6" y1="200.3" x2="195.1" y2="200.3" stroke="#777" stroke-width="0.8"/>
<text x="191.6" y="203.1" font-size="7.8" text-anchor="end" fill="#333" >0.4</text>
<line x1="193.6" y1="173.6" x2="195.1" y2="173.6" stroke="#777" stroke-width="0.8"/>
<text x="191.6" y="176.4" font-size="7.8" text-anchor="end" fill="#333" >0.6</text>
<line x1="193.6" y1="253.6" x2="193.6" y2="252.1" stroke="#777" stroke-width="0.8"/>
<text x="196.9" y="263.7" font-size="8.1" text-anchor="middle" fill="#333" >400</text>
<line x1="233.2" y1="253.6" x2="233.2" y2="252.1" stroke="#777" stroke-width="0.8"/>
<text x="236.5" y="263.7" font-size="8.1" text-anchor="middle" fill="#333" >500</text>
<line x1="272.9" y1="253.6" x2="272.9" y2="252.1" stroke="#777" stroke-width="0.8"/>
<text x="276.2" y="263.7" font-size="8.1" text-anchor="middle" fill="#333" >600</text>
<line x1="312.5" y1="253.6" x2="312.5" y2="252.1" stroke="#777" stroke-width="0.8"/>
<text x="315.8" y="263.7" font-size="8.1" text-anchor="middle" fill="#333" >700</text>
<text x="225.3" y="273.6" font-size="8.4" text-anchor="start" fill="#333" >Wavelength (nm)</text>
<text transform="translate(174.6 202.7) rotate(-90)" font-size="8.1" text-anchor="middle" fill="#333">Absorbance</text>
<path d="M193.60 201.06 L194.20 201.26 L194.79 201.45 L195.39 201.64 L195.99 201.82 L196.59 202.00 L197.18 202.17 L197.78 202.33 L198.38 202.47 L198.98 202.61 L199.57 202.73 L200.17 202.83 L200.77 202.92 L201.37 202.99 L201.96 203.04 L202.56 203.08 L203.16 203.11 L203.76 203.13 L204.35 203.16 L204.95 203.19 L205.55 203.21 L206.15 203.23 L206.74 203.25 L207.34 203.27 L207.94 203.28 L208.54 203.30 L209.13 203.31 L209.73 203.32 L210.33 203.32 L210.93 203.33 L211.52 203.33 L212.12 203.30 L212.72 203.24 L213.32 203.15 L213.91 203.03 L214.51 202.88 L215.11 202.71 L215.71 202.51 L216.30 202.31 L216.90 202.09 L217.50 201.86 L218.09 201.62 L218.69 201.37 L219.29 201.09 L219.89 200.75 L220.48 200.36 L221.08 199.92 L221.68 199.44 L222.28 198.91 L222.87 198.35 L223.47 197.75 L224.07 197.12 L224.67 196.46 L225.26 195.77 L225.86 195.01 L226.46 194.11 L227.06 193.09 L227.65 191.98 L228.25 190.79 L228.85 189.53 L229.45 188.23 L230.04 186.90 L230.64 185.55 L231.24 184.21 L231.84 182.89 L232.43 181.61 L233.03 180.26 L233.63 178.80 L234.23 177.29 L234.82 175.75 L235.42 174.25 L236.02 172.81 L236.62 171.47 L237.21 170.29 L237.81 169.30 L238.41 168.48 L239.01 167.65 L239.60 166.85 L240.20 166.11 L240.80 165.46 L241.39 164.93 L241.99 164.57 L242.59 164.40 L243.19 164.43 L243.78 164.60 L244.38 164.89 L244.98 165.28 L245.58 165.75 L246.17 166.28 L246.77 166.85 L247.37 167.45 L247.97 168.18 L248.56 169.16 L249.16 170.34 L249.76 171.67 L250.36 173.10 L250.95 174.58 L251.55 176.07 L252.15 177.51 L252.75 179.00 L253.34 180.57 L253.94 182.21 L254.54 183.89 L255.14 185.61 L255.73 187.35 L256.33 189.10 L256.93 190.83 L257.53 192.55 L258.12 194.24 L258.72 195.97 L259.32 197.74 L259.92 199.52 L260.51 201.30 L261.11 203.06 L261.71 204.77 L262.31 206.43 L262.90 208.00 L263.50 209.48 L264.10 210.89 L264.70 212.28 L265.29 213.65 L265.89 214.99 L266.49 216.30 L267.08 217.57 L267.68 218.81 L268.28 220.01 L268.88 221.16 L269.47 222.27 L270.07 223.32 L270.67 224.32 L271.27 225.26 L271.86 226.14 L272.46 226.99 L273.06 227.81 L273.66 228.61 L274.25 229.38 L274.85 230.13 L275.45 230.85 L276.05 231.55 L276.64 232.22 L277.24 232.87 L277.84 233.49 L278.44 234.08 L279.03 234.65 L279.63 235.20 L280.23 235.71 L280.83 236.20 L281.42 236.67 L282.02 237.12 L282.62 237.56 L283.22 237.99 L283.81 238.40 L284.41 238.80 L285.01 239.19 L285.61 239.57 L286.20 239.94 L286.80 240.29 L287.40 240.64 L288.00 240.97 L288.59 241.30 L289.19 241.61 L289.79 241.92 L290.38 242.22 L290.98 242.51 L291.58 242.79 L292.18 243.06 L292.77 243.33 L293.37 243.59 L293.97 243.85 L294.57 244.11 L295.16 244.36 L295.76 244.60 L296.36 244.84 L296.96 245.07 L297.55 245.30 L298.15 245.52 L298.75 245.73 L299.35 245.94 L299.94 246.14 L300.54 246.34 L301.14 246.53 L301.74 246.71 L302.33 246.88 L302.93 247.05 L303.53 247.20 L304.13 247.35 L304.72 247.49 L305.32 247.63 L305.92 247.77 L306.52 247.90 L307.11 248.03 L307.71 248.15 L308.31 248.27 L308.91 248.38 L309.50 248.49 L310.10 248.59 L310.70 248.69 L311.30 248.78 L311.89 248.86 L312.49 248.93" fill="none" stroke="#e8303a" stroke-width="1.25" stroke-linejoin="round" opacity="1"/>
<path d="M374.50 38.20 C374.93 38.40 375.88 39.82 377.10 39.40 C378.32 38.98 380.17 35.33 381.80 35.70 C383.43 36.07 385.28 41.20 386.90 41.60 C388.52 42.00 390.12 38.77 391.50 38.10 C392.88 37.43 394.58 37.68 395.20 37.60" fill="none" stroke="#24408c" stroke-width="1.15"/>
<circle cx="369" cy="38" r="5.3" fill="#f01010" stroke="#f2e020" stroke-width="1.3"/>
<polygon points="397.50,33.00 398.61,35.67 401.49,35.90 399.30,37.78 399.97,40.60 397.50,39.09 395.03,40.60 395.70,37.78 393.51,35.90 396.39,35.67" fill="#13a06a" stroke="#1d3d8a" stroke-width="0.5"/>
<text x="374" y="31" font-size="9.3" text-anchor="start" fill="#4a5aa0" >CF<tspan font-size="6" dy="2">4</tspan><tspan dy="-2">KY</tspan><tspan font-size="6" dy="-3" fill="#22aa55">P</tspan></text>
<text x="357" y="54.3" font-size="9.6" text-anchor="start" fill="#e8202a" >AuNPs</text>
<text x="397.8" y="52.3" font-size="9.1" text-anchor="start" fill="#1aa055" font-weight="bold">Phosphate</text>
<text x="446" y="51.8" font-size="6.2" text-anchor="start" fill="#1aa055" font-weight="bold">(p)</text>
<line x1="359.5" y1="57.4" x2="450.5" y2="57.4" stroke="#aaa" stroke-width="1"/>
<text x="366.8" y="74.2" font-size="9.3" text-anchor="start" fill="#e8202a" >AuNPs<tspan fill="#4a5aa0">-CF<tspan font-size="6" dy="2">4</tspan><tspan dy="-2">KY</tspan><tspan font-size="6" dy="-3" fill="#22aa55">P</tspan></tspan></text>
<text x="478.8" y="40" font-size="9.3" text-anchor="middle" fill="#7a3aa8" >ALP</text>
<path d="M477 49 L477 44.4 A4.6 4.6 0 1 0 481.6 49 Z" fill="#6a2a9a"/>
<line x1="460" y1="57.8" x2="491" y2="57.8" stroke="#3a6ac8" stroke-width="1.3"/>
<path d="M495.5 57.8 L489 55 L489 60.6 Z" fill="#3a6ac8"/>
<path d="M521.50 53.30 C522.17 53.58 523.75 55.58 525.50 55.00 C527.25 54.42 529.98 49.45 532.00 49.80 C534.02 50.15 535.72 56.75 537.60 57.10 C539.48 57.45 541.98 52.78 543.30 51.90 C544.62 51.02 545.13 51.82 545.50 51.80" fill="none" stroke="#24408c" stroke-width="1.15"/>
<circle cx="514" cy="52" r="7.4" fill="#f01010" stroke="#f2e020" stroke-width="1.2"/>
<polygon points="532.40,64.00 534.01,67.88 538.20,68.21 535.01,70.95 535.99,75.04 532.40,72.84 528.81,75.04 529.79,70.95 526.60,68.21 530.79,67.88" fill="#14a050" stroke="#1d3d8a" stroke-width="0.8"/>
<text x="362" y="108.6" font-size="9.2" text-anchor="start" fill="#222" >Aggregation</text>
<line x1="360.7" y1="112.6" x2="413" y2="112.6" stroke="#3a6ac8" stroke-width="1.3"/>
<path d="M417.5 112.6 L411 109.8 L411 115.4 Z" fill="#3a6ac8"/>
<path d="M444.00 102.00 L443.85 101.45 L443.68 100.92 L443.51 100.45 L443.32 100.06 L443.10 99.76 L442.85 99.58 L442.58 99.51 L442.28 99.55 L441.95 99.71 L441.60 99.97 L441.23 100.30 L440.84 100.69 L440.45 101.11 L440.06 101.53 L439.67 101.93 L439.30 102.27 L438.95 102.53 L438.62 102.70 L438.31 102.75 L438.04 102.70 L437.79 102.52 L437.57 102.23 L437.38 101.85 L437.20 101.38 L437.04 100.86 L436.88 100.31 L436.73 99.75 L436.57 99.23 L436.39 98.75 L436.20 98.35 L435.99 98.04 L435.75 97.85 L435.48 97.77 L435.18 97.81 L434.85 97.96 L434.50 98.20 L434.13 98.53 L433.75 98.92 L433.36 99.34 L432.96 99.76 L432.58 100.15 L432.20 100.50 L431.85 100.77 L431.51 100.95 L431.21 101.02 L430.93 100.97 L430.68 100.80 L430.46 100.52 L430.26 100.15 L430.08 99.69 L429.92 99.17 L429.77 98.62 L429.61 98.06 L429.45 97.53 L429.28 97.05 L429.09 96.64 L428.88 96.33 L428.64 96.12 L428.37 96.03 L428.07 96.06" fill="none" stroke="#24408c" stroke-width="1.2" stroke-linejoin="round" stroke-linecap="round"/>
<path d="M462.50 102.00 L462.59 101.44 L462.69 100.90 L462.81 100.42 L462.96 100.01 L463.14 99.69 L463.35 99.49 L463.61 99.39 L463.91 99.41 L464.24 99.54 L464.61 99.76 L465.01 100.06 L465.43 100.41 L465.85 100.79 L466.28 101.17 L466.69 101.52 L467.09 101.83 L467.46 102.05 L467.80 102.19 L468.10 102.22 L468.37 102.13 L468.59 101.94 L468.77 101.63 L468.92 101.23 L469.04 100.75 L469.14 100.22 L469.23 99.66 L469.32 99.09 L469.42 98.55 L469.54 98.06 L469.68 97.65 L469.86 97.33 L470.07 97.11 L470.33 97.00 L470.62 97.01 L470.95 97.13 L471.32 97.35 L471.71 97.64 L472.13 97.98 L472.55 98.36 L472.98 98.74 L473.40 99.10 L473.80 99.41 L474.17 99.65 L474.51 99.79 L474.82 99.83 L475.08 99.76 L475.31 99.57 L475.49 99.27 L475.64 98.88 L475.77 98.41 L475.87 97.88 L475.96 97.32 L476.05 96.75 L476.15 96.21 L476.27 95.71 L476.41 95.29 L476.58 94.96 L476.79 94.73 L477.04 94.62 L477.33 94.62" fill="none" stroke="#24408c" stroke-width="1.2" stroke-linejoin="round" stroke-linecap="round"/>
<path d="M444.00 116.00 L443.85 116.55 L443.68 117.08 L443.51 117.55 L443.32 117.94 L443.10 118.24 L442.85 118.42 L442.58 118.49 L442.28 118.45 L441.95 118.29 L441.60 118.03 L441.23 117.70 L440.84 117.31 L440.45 116.89 L440.06 116.47 L439.67 116.07 L439.30 115.73 L438.95 115.47 L438.62 115.30 L438.31 115.25 L438.04 115.30 L437.79 115.48 L437.57 115.77 L437.38 116.15 L437.20 116.62 L437.04 117.14 L436.88 117.69 L436.73 118.25 L436.57 118.77 L436.39 119.25 L436.20 119.65 L435.99 119.96 L435.75 120.15 L435.48 120.23 L435.18 120.19 L434.85 120.04 L434.50 119.80 L434.13 119.47 L433.75 119.08 L433.36 118.66 L432.96 118.24 L432.58 117.85 L432.20 117.50 L431.85 117.23 L431.51 117.05 L431.21 116.98 L430.93 117.03 L430.68 117.20 L430.46 117.48 L430.26 117.85 L430.08 118.31 L429.92 118.83 L429.77 119.38 L429.61 119.94 L429.45 120.47 L429.28 120.95 L429.09 121.36 L428.88 121.67 L428.64 121.88 L428.37 121.97 L428.07 121.94" fill="none" stroke="#24408c" stroke-width="1.2" stroke-linejoin="round" stroke-linecap="round"/>
<path d="M462.50 116.00 L462.60 116.56 L462.72 117.09 L462.85 117.57 L463.00 117.97 L463.19 118.28 L463.41 118.48 L463.67 118.57 L463.96 118.54 L464.29 118.40 L464.65 118.17 L465.04 117.86 L465.44 117.50 L465.85 117.10 L466.26 116.71 L466.67 116.34 L467.05 116.03 L467.42 115.79 L467.75 115.64 L468.05 115.60 L468.31 115.68 L468.53 115.87 L468.72 116.17 L468.88 116.56 L469.01 117.04 L469.13 117.57 L469.23 118.12 L469.33 118.69 L469.45 119.22 L469.58 119.71 L469.73 120.12 L469.91 120.43 L470.13 120.64 L470.38 120.74 L470.67 120.72 L471.00 120.59 L471.36 120.37 L471.74 120.06 L472.14 119.70 L472.55 119.31 L472.97 118.92 L473.37 118.55 L473.76 118.23 L474.13 117.98 L474.46 117.82 L474.76 117.78 L475.03 117.84 L475.25 118.02 L475.44 118.31 L475.60 118.70 L475.74 119.17 L475.85 119.69 L475.96 120.25 L476.06 120.81 L476.18 121.35 L476.30 121.84 L476.45 122.26 L476.63 122.58 L476.85 122.80 L477.10 122.91 L477.39 122.90" fill="none" stroke="#24408c" stroke-width="1.2" stroke-linejoin="round" stroke-linecap="round"/>
<circle cx="448.6" cy="104.4" r="4.2" fill="#7c7c84" stroke="#e6dc30" stroke-width="1"/>
<circle cx="457.8" cy="104.4" r="4.2" fill="#7c7c84" stroke="#e6dc30" stroke-width="1"/>
<circle cx="448.6" cy="113" r="4.2" fill="#7c7c84" stroke="#e6dc30" stroke-width="1"/>
<circle cx="457.8" cy="113" r="4.2" fill="#7c7c84" stroke="#e6dc30" stroke-width="1"/>
<rect x="30.1" y="304.2" width="118.5" height="101.7" fill="none" stroke="#888" stroke-width="0.9"/>
<line x1="30.1" y1="405.9" x2="31.6" y2="405.9" stroke="#777" stroke-width="0.8"/>
<text x="27.9" y="408.7" font-size="7.8" text-anchor="end" fill="#333" >0.0</text>
<line x1="30.1" y1="380.5" x2="31.6" y2="380.5" stroke="#777" stroke-width="0.8"/>
<text x="27.9" y="383.3" font-size="7.8" text-anchor="end" fill="#333" >0.2</text>
<line x1="30.1" y1="355" x2="31.6" y2="355" stroke="#777" stroke-width="0.8"/>
<text x="27.9" y="357.8" font-size="7.8" text-anchor="end" fill="#333" >0.4</text>
<line x1="30.1" y1="329.6" x2="31.6" y2="329.6" stroke="#777" stroke-width="0.8"/>
<text x="27.9" y="332.4" font-size="7.8" text-anchor="end" fill="#333" >0.6</text>
<line x1="30.1" y1="304.2" x2="31.6" y2="304.2" stroke="#777" stroke-width="0.8"/>
<text x="27.9" y="307" font-size="7.8" text-anchor="end" fill="#333" >0.8</text>
<line x1="30.1" y1="405.9" x2="30.1" y2="404.4" stroke="#777" stroke-width="0.8"/>
<text x="33.1" y="416.1" font-size="8.1" text-anchor="middle" fill="#333" >400</text>
<line x1="69.6" y1="405.9" x2="69.6" y2="404.4" stroke="#777" stroke-width="0.8"/>
<text x="72.6" y="416.1" font-size="8.1" text-anchor="middle" fill="#333" >500</text>
<line x1="109.1" y1="405.9" x2="109.1" y2="404.4" stroke="#777" stroke-width="0.8"/>
<text x="112.1" y="416.1" font-size="8.1" text-anchor="middle" fill="#333" >600</text>
<line x1="148.6" y1="405.9" x2="148.6" y2="404.4" stroke="#777" stroke-width="0.8"/>
<text x="151.6" y="416.1" font-size="8.1" text-anchor="middle" fill="#333" >700</text>
<text x="93.1" y="427.4" font-size="8.1" text-anchor="middle" fill="#333" >Wavelength (nm)</text>
<text transform="translate(12.2 355.3) rotate(-90)" font-size="8.3" text-anchor="middle" fill="#333">Absorbance</text>
<path d="M30.10 354.80 L30.70 354.89 L31.29 354.99 L31.89 355.08 L32.48 355.18 L33.08 355.28 L33.67 355.37 L34.27 355.47 L34.86 355.57 L35.46 355.66 L36.05 355.76 L36.65 355.86 L37.25 355.96 L37.84 356.06 L38.44 356.16 L39.03 356.26 L39.63 356.36 L40.22 356.46 L40.82 356.56 L41.41 356.65 L42.01 356.75 L42.61 356.83 L43.20 356.91 L43.80 356.99 L44.39 357.05 L44.99 357.10 L45.58 357.14 L46.18 357.17 L46.77 357.18 L47.37 357.18 L47.96 357.16 L48.56 357.12 L49.16 357.06 L49.75 356.97 L50.35 356.87 L50.94 356.75 L51.54 356.60 L52.13 356.43 L52.73 356.24 L53.32 356.03 L53.92 355.80 L54.51 355.54 L55.11 355.26 L55.71 354.96 L56.30 354.64 L56.90 354.28 L57.49 353.90 L58.09 353.48 L58.68 353.02 L59.28 352.51 L59.87 351.94 L60.47 351.31 L61.06 350.61 L61.66 349.84 L62.26 349.00 L62.85 348.06 L63.45 347.04 L64.04 345.93 L64.64 344.75 L65.23 343.50 L65.83 342.19 L66.42 340.84 L67.02 339.46 L67.62 338.06 L68.21 336.64 L68.81 335.23 L69.40 333.82 L70.00 332.44 L70.59 331.08 L71.19 329.76 L71.78 328.50 L72.38 327.29 L72.97 326.14 L73.57 325.07 L74.17 324.07 L74.76 323.17 L75.36 322.37 L75.95 321.67 L76.55 321.08 L77.14 320.61 L77.74 320.24 L78.33 319.97 L78.93 319.79 L79.52 319.71 L80.12 319.72 L80.72 319.83 L81.31 320.07 L81.91 320.45 L82.50 320.99 L83.10 321.72 L83.69 322.65 L84.29 323.81 L84.88 325.20 L85.48 326.82 L86.07 328.62 L86.67 330.59 L87.27 332.69 L87.86 334.90 L88.46 337.18 L89.05 339.51 L89.65 341.87 L90.24 344.22 L90.84 346.55 L91.43 348.85 L92.03 351.08 L92.63 353.23 L93.22 355.29 L93.82 357.25 L94.41 359.13 L95.01 360.94 L95.60 362.70 L96.20 364.40 L96.79 366.07 L97.39 367.71 L97.98 369.34 L98.58 370.94 L99.18 372.51 L99.77 374.04 L100.37 375.51 L100.96 376.92 L101.56 378.26 L102.15 379.51 L102.75 380.68 L103.34 381.76 L103.94 382.75 L104.53 383.67 L105.13 384.52 L105.73 385.30 L106.32 386.03 L106.92 386.70 L107.51 387.33 L108.11 387.91 L108.70 388.47 L109.30 388.99 L109.89 389.50 L110.49 389.98 L111.08 390.44 L111.68 390.88 L112.28 391.30 L112.87 391.70 L113.47 392.09 L114.06 392.45 L114.66 392.81 L115.25 393.14 L115.85 393.47 L116.44 393.78 L117.04 394.07 L117.64 394.36 L118.23 394.63 L118.83 394.90 L119.42 395.15 L120.02 395.39 L120.61 395.63 L121.21 395.85 L121.80 396.07 L122.40 396.28 L122.99 396.48 L123.59 396.68 L124.19 396.87 L124.78 397.05 L125.38 397.22 L125.97 397.39 L126.57 397.56 L127.16 397.72 L127.76 397.87 L128.35 398.02 L128.95 398.16 L129.54 398.31 L130.14 398.44 L130.74 398.58 L131.33 398.71 L131.93 398.84 L132.52 398.96 L133.12 399.09 L133.71 399.21 L134.31 399.33 L134.90 399.44 L135.50 399.56 L136.09 399.67 L136.69 399.78 L137.29 399.89 L137.88 399.99 L138.48 400.10 L139.07 400.20 L139.67 400.30 L140.26 400.40 L140.86 400.50 L141.45 400.60 L142.05 400.70 L142.65 400.79 L143.24 400.88 L143.84 400.98 L144.43 401.07 L145.03 401.16 L145.62 401.25 L146.22 401.34 L146.81 401.43 L147.41 401.53 L148.00 401.62 L148.60 401.70" fill="none" stroke="#e8505a" stroke-width="1.15" stroke-linejoin="round" opacity="1"/>
<path d="M30.10 357.72 L30.70 357.83 L31.29 357.95 L31.89 358.06 L32.48 358.18 L33.08 358.29 L33.67 358.40 L34.27 358.52 L34.86 358.63 L35.46 358.74 L36.05 358.85 L36.65 358.95 L37.25 359.06 L37.84 359.16 L38.44 359.27 L39.03 359.37 L39.63 359.46 L40.22 359.56 L40.82 359.65 L41.41 359.75 L42.01 359.83 L42.61 359.92 L43.20 360.00 L43.80 360.08 L44.39 360.16 L44.99 360.23 L45.58 360.30 L46.18 360.36 L46.77 360.41 L47.37 360.45 L47.96 360.49 L48.56 360.50 L49.16 360.51 L49.75 360.49 L50.35 360.46 L50.94 360.41 L51.54 360.34 L52.13 360.25 L52.73 360.13 L53.32 359.99 L53.92 359.82 L54.51 359.62 L55.11 359.40 L55.71 359.14 L56.30 358.84 L56.90 358.52 L57.49 358.16 L58.09 357.78 L58.68 357.36 L59.28 356.92 L59.87 356.45 L60.47 355.95 L61.06 355.44 L61.66 354.90 L62.26 354.34 L62.85 353.76 L63.45 353.17 L64.04 352.56 L64.64 351.94 L65.23 351.30 L65.83 350.66 L66.42 350.00 L67.02 349.34 L67.62 348.67 L68.21 347.99 L68.81 347.31 L69.40 346.63 L70.00 345.95 L70.59 345.27 L71.19 344.60 L71.78 343.92 L72.38 343.26 L72.97 342.60 L73.57 341.96 L74.17 341.32 L74.76 340.69 L75.36 340.08 L75.95 339.49 L76.55 338.91 L77.14 338.35 L77.74 337.81 L78.33 337.28 L78.93 336.78 L79.52 336.30 L80.12 335.83 L80.72 335.40 L81.31 334.98 L81.91 334.59 L82.50 334.23 L83.10 333.90 L83.69 333.60 L84.29 333.35 L84.88 333.14 L85.48 332.98 L86.07 332.88 L86.67 332.83 L87.27 332.86 L87.86 332.95 L88.46 333.12 L89.05 333.36 L89.65 333.66 L90.24 334.04 L90.84 334.48 L91.43 334.98 L92.03 335.54 L92.63 336.16 L93.22 336.82 L93.82 337.55 L94.41 338.32 L95.01 339.13 L95.60 339.99 L96.20 340.89 L96.79 341.82 L97.39 342.78 L97.98 343.77 L98.58 344.78 L99.18 345.81 L99.77 346.85 L100.37 347.90 L100.96 348.95 L101.56 350.00 L102.15 351.05 L102.75 352.08 L103.34 353.11 L103.94 354.12 L104.53 355.12 L105.13 356.10 L105.73 357.07 L106.32 358.01 L106.92 358.94 L107.51 359.84 L108.11 360.73 L108.70 361.58 L109.30 362.41 L109.89 363.22 L110.49 364.00 L111.08 364.74 L111.68 365.46 L112.28 366.14 L112.87 366.79 L113.47 367.41 L114.06 368.00 L114.66 368.57 L115.25 369.11 L115.85 369.63 L116.44 370.12 L117.04 370.60 L117.64 371.05 L118.23 371.49 L118.83 371.91 L119.42 372.32 L120.02 372.71 L120.61 373.09 L121.21 373.46 L121.80 373.82 L122.40 374.17 L122.99 374.52 L123.59 374.86 L124.19 375.20 L124.78 375.54 L125.38 375.87 L125.97 376.20 L126.57 376.52 L127.16 376.84 L127.76 377.15 L128.35 377.47 L128.95 377.77 L129.54 378.08 L130.14 378.37 L130.74 378.67 L131.33 378.96 L131.93 379.25 L132.52 379.53 L133.12 379.81 L133.71 380.08 L134.31 380.35 L134.90 380.61 L135.50 380.87 L136.09 381.13 L136.69 381.38 L137.29 381.63 L137.88 381.87 L138.48 382.11 L139.07 382.34 L139.67 382.58 L140.26 382.81 L140.86 383.03 L141.45 383.26 L142.05 383.48 L142.65 383.70 L143.24 383.92 L143.84 384.13 L144.43 384.34 L145.03 384.56 L145.62 384.77 L146.22 384.98 L146.81 385.19 L147.41 385.40 L148.00 385.61 L148.60 385.81" fill="none" stroke="#3a78d8" stroke-width="1.15" stroke-linejoin="round" opacity="1"/>
<path d="M30.10 359.50 L30.70 359.61 L31.29 359.72 L31.89 359.84 L32.48 359.95 L33.08 360.06 L33.67 360.17 L34.27 360.28 L34.86 360.38 L35.46 360.49 L36.05 360.59 L36.65 360.70 L37.25 360.80 L37.84 360.90 L38.44 360.99 L39.03 361.09 L39.63 361.18 L40.22 361.27 L40.82 361.36 L41.41 361.44 L42.01 361.52 L42.61 361.60 L43.20 361.67 L43.80 361.74 L44.39 361.81 L44.99 361.87 L45.58 361.93 L46.18 361.98 L46.77 362.02 L47.37 362.05 L47.96 362.07 L48.56 362.08 L49.16 362.07 L49.75 362.05 L50.35 362.02 L50.94 361.97 L51.54 361.90 L52.13 361.81 L52.73 361.69 L53.32 361.56 L53.92 361.40 L54.51 361.22 L55.11 361.01 L55.71 360.78 L56.30 360.51 L56.90 360.22 L57.49 359.90 L58.09 359.55 L58.68 359.18 L59.28 358.78 L59.87 358.36 L60.47 357.91 L61.06 357.45 L61.66 356.97 L62.26 356.46 L62.85 355.94 L63.45 355.40 L64.04 354.85 L64.64 354.28 L65.23 353.70 L65.83 353.11 L66.42 352.51 L67.02 351.89 L67.62 351.28 L68.21 350.65 L68.81 350.03 L69.40 349.40 L70.00 348.78 L70.59 348.16 L71.19 347.55 L71.78 346.94 L72.38 346.35 L72.97 345.76 L73.57 345.19 L74.17 344.64 L74.76 344.11 L75.36 343.59 L75.95 343.10 L76.55 342.62 L77.14 342.17 L77.74 341.74 L78.33 341.33 L78.93 340.93 L79.52 340.56 L80.12 340.22 L80.72 339.89 L81.31 339.58 L81.91 339.29 L82.50 339.03 L83.10 338.79 L83.69 338.58 L84.29 338.40 L84.88 338.25 L85.48 338.14 L86.07 338.07 L86.67 338.05 L87.27 338.08 L87.86 338.16 L88.46 338.29 L89.05 338.48 L89.65 338.71 L90.24 339.00 L90.84 339.33 L91.43 339.71 L92.03 340.13 L92.63 340.60 L93.22 341.11 L93.82 341.65 L94.41 342.24 L95.01 342.85 L95.60 343.51 L96.20 344.19 L96.79 344.91 L97.39 345.65 L97.98 346.42 L98.58 347.21 L99.18 348.03 L99.77 348.86 L100.37 349.71 L100.96 350.57 L101.56 351.44 L102.15 352.33 L102.75 353.22 L103.34 354.12 L103.94 355.02 L104.53 355.92 L105.13 356.82 L105.73 357.72 L106.32 358.61 L106.92 359.49 L107.51 360.36 L108.11 361.22 L108.70 362.06 L109.30 362.89 L109.89 363.69 L110.49 364.48 L111.08 365.24 L111.68 365.97 L112.28 366.67 L112.87 367.35 L113.47 367.99 L114.06 368.62 L114.66 369.22 L115.25 369.80 L115.85 370.35 L116.44 370.89 L117.04 371.40 L117.64 371.90 L118.23 372.38 L118.83 372.85 L119.42 373.30 L120.02 373.74 L120.61 374.16 L121.21 374.58 L121.80 374.98 L122.40 375.38 L122.99 375.77 L123.59 376.15 L124.19 376.52 L124.78 376.90 L125.38 377.26 L125.97 377.62 L126.57 377.97 L127.16 378.32 L127.76 378.66 L128.35 379.00 L128.95 379.33 L129.54 379.65 L130.14 379.97 L130.74 380.28 L131.33 380.58 L131.93 380.88 L132.52 381.17 L133.12 381.46 L133.71 381.73 L134.31 382.00 L134.90 382.27 L135.50 382.52 L136.09 382.77 L136.69 383.01 L137.29 383.25 L137.88 383.48 L138.48 383.71 L139.07 383.92 L139.67 384.14 L140.26 384.35 L140.86 384.55 L141.45 384.75 L142.05 384.95 L142.65 385.14 L143.24 385.33 L143.84 385.52 L144.43 385.71 L145.03 385.89 L145.62 386.07 L146.22 386.25 L146.81 386.43 L147.41 386.61 L148.00 386.78 L148.60 386.96" fill="none" stroke="#58b878" stroke-width="1.15" stroke-linejoin="round" opacity="1"/>
<path d="M30.10 362.30 L30.70 362.40 L31.29 362.50 L31.89 362.61 L32.48 362.71 L33.08 362.81 L33.67 362.92 L34.27 363.02 L34.86 363.12 L35.46 363.22 L36.05 363.32 L36.65 363.42 L37.25 363.52 L37.84 363.62 L38.44 363.72 L39.03 363.81 L39.63 363.91 L40.22 364.00 L40.82 364.09 L41.41 364.18 L42.01 364.27 L42.61 364.36 L43.20 364.44 L43.80 364.53 L44.39 364.61 L44.99 364.69 L45.58 364.77 L46.18 364.84 L46.77 364.90 L47.37 364.96 L47.96 365.00 L48.56 365.04 L49.16 365.06 L49.75 365.07 L50.35 365.06 L50.94 365.04 L51.54 365.00 L52.13 364.94 L52.73 364.85 L53.32 364.75 L53.92 364.62 L54.51 364.46 L55.11 364.28 L55.71 364.07 L56.30 363.83 L56.90 363.56 L57.49 363.26 L58.09 362.93 L58.68 362.59 L59.28 362.21 L59.87 361.82 L60.47 361.41 L61.06 360.98 L61.66 360.53 L62.26 360.07 L62.85 359.60 L63.45 359.11 L64.04 358.62 L64.64 358.12 L65.23 357.62 L65.83 357.11 L66.42 356.60 L67.02 356.09 L67.62 355.57 L68.21 355.06 L68.81 354.55 L69.40 354.05 L70.00 353.55 L70.59 353.05 L71.19 352.56 L71.78 352.07 L72.38 351.60 L72.97 351.13 L73.57 350.68 L74.17 350.23 L74.76 349.80 L75.36 349.39 L75.95 348.99 L76.55 348.60 L77.14 348.22 L77.74 347.86 L78.33 347.51 L78.93 347.17 L79.52 346.84 L80.12 346.53 L80.72 346.22 L81.31 345.93 L81.91 345.65 L82.50 345.38 L83.10 345.12 L83.69 344.88 L84.29 344.66 L84.88 344.46 L85.48 344.28 L86.07 344.13 L86.67 344.01 L87.27 343.92 L87.86 343.86 L88.46 343.85 L89.05 343.87 L89.65 343.94 L90.24 344.04 L90.84 344.19 L91.43 344.38 L92.03 344.61 L92.63 344.88 L93.22 345.19 L93.82 345.53 L94.41 345.91 L95.01 346.32 L95.60 346.78 L96.20 347.26 L96.79 347.78 L97.39 348.32 L97.98 348.89 L98.58 349.49 L99.18 350.11 L99.77 350.75 L100.37 351.41 L100.96 352.09 L101.56 352.78 L102.15 353.48 L102.75 354.20 L103.34 354.92 L103.94 355.65 L104.53 356.39 L105.13 357.13 L105.73 357.87 L106.32 358.61 L106.92 359.34 L107.51 360.08 L108.11 360.80 L108.70 361.52 L109.30 362.23 L109.89 362.93 L110.49 363.62 L111.08 364.29 L111.68 364.94 L112.28 365.57 L112.87 366.19 L113.47 366.79 L114.06 367.37 L114.66 367.93 L115.25 368.48 L115.85 369.02 L116.44 369.54 L117.04 370.04 L117.64 370.54 L118.23 371.02 L118.83 371.49 L119.42 371.95 L120.02 372.39 L120.61 372.83 L121.21 373.26 L121.80 373.67 L122.40 374.08 L122.99 374.49 L123.59 374.88 L124.19 375.27 L124.78 375.65 L125.38 376.02 L125.97 376.39 L126.57 376.75 L127.16 377.10 L127.76 377.45 L128.35 377.79 L128.95 378.12 L129.54 378.44 L130.14 378.76 L130.74 379.07 L131.33 379.37 L131.93 379.66 L132.52 379.94 L133.12 380.22 L133.71 380.49 L134.31 380.75 L134.90 381.00 L135.50 381.24 L136.09 381.48 L136.69 381.71 L137.29 381.93 L137.88 382.14 L138.48 382.35 L139.07 382.54 L139.67 382.74 L140.26 382.93 L140.86 383.11 L141.45 383.29 L142.05 383.46 L142.65 383.63 L143.24 383.80 L143.84 383.96 L144.43 384.12 L145.03 384.27 L145.62 384.43 L146.22 384.58 L146.81 384.73 L147.41 384.88 L148.00 385.03 L148.60 385.18" fill="none" stroke="#b888e8" stroke-width="1.15" stroke-linejoin="round" opacity="1"/>
<path d="M30.10 362.80 L30.70 362.91 L31.29 363.01 L31.89 363.12 L32.48 363.22 L33.08 363.32 L33.67 363.43 L34.27 363.53 L34.86 363.63 L35.46 363.73 L36.05 363.83 L36.65 363.93 L37.25 364.03 L37.84 364.13 L38.44 364.23 L39.03 364.32 L39.63 364.42 L40.22 364.51 L40.82 364.60 L41.41 364.69 L42.01 364.78 L42.61 364.87 L43.20 364.95 L43.80 365.04 L44.39 365.12 L44.99 365.20 L45.58 365.27 L46.18 365.34 L46.77 365.41 L47.37 365.46 L47.96 365.51 L48.56 365.55 L49.16 365.57 L49.75 365.58 L50.35 365.57 L50.94 365.55 L51.54 365.50 L52.13 365.44 L52.73 365.36 L53.32 365.25 L53.92 365.12 L54.51 364.97 L55.11 364.79 L55.71 364.58 L56.30 364.34 L56.90 364.07 L57.49 363.77 L58.09 363.44 L58.68 363.10 L59.28 362.72 L59.87 362.33 L60.47 361.92 L61.06 361.49 L61.66 361.04 L62.26 360.58 L62.85 360.11 L63.45 359.63 L64.04 359.13 L64.64 358.63 L65.23 358.13 L65.83 357.62 L66.42 357.11 L67.02 356.59 L67.62 356.08 L68.21 355.57 L68.81 355.06 L69.40 354.55 L70.00 354.05 L70.59 353.55 L71.19 353.06 L71.78 352.57 L72.38 352.10 L72.97 351.63 L73.57 351.18 L74.17 350.74 L74.76 350.31 L75.36 349.90 L75.95 349.50 L76.55 349.11 L77.14 348.74 L77.74 348.38 L78.33 348.03 L78.93 347.70 L79.52 347.37 L80.12 347.06 L80.72 346.75 L81.31 346.45 L81.91 346.16 L82.50 345.88 L83.10 345.61 L83.69 345.35 L84.29 345.10 L84.88 344.88 L85.48 344.68 L86.07 344.51 L86.67 344.36 L87.27 344.24 L87.86 344.16 L88.46 344.12 L89.05 344.12 L89.65 344.16 L90.24 344.24 L90.84 344.37 L91.43 344.53 L92.03 344.74 L92.63 344.98 L93.22 345.26 L93.82 345.58 L94.41 345.94 L95.01 346.33 L95.60 346.76 L96.20 347.21 L96.79 347.70 L97.39 348.22 L97.98 348.77 L98.58 349.35 L99.18 349.94 L99.77 350.56 L100.37 351.20 L100.96 351.86 L101.56 352.54 L102.15 353.23 L102.75 353.93 L103.34 354.65 L103.94 355.37 L104.53 356.10 L105.13 356.84 L105.73 357.58 L106.32 358.32 L106.92 359.06 L107.51 359.80 L108.11 360.53 L108.70 361.25 L109.30 361.96 L109.89 362.67 L110.49 363.36 L111.08 364.03 L111.68 364.68 L112.28 365.32 L112.87 365.94 L113.47 366.54 L114.06 367.12 L114.66 367.69 L115.25 368.24 L115.85 368.77 L116.44 369.29 L117.04 369.80 L117.64 370.29 L118.23 370.77 L118.83 371.24 L119.42 371.70 L120.02 372.14 L120.61 372.58 L121.21 373.00 L121.80 373.42 L122.40 373.83 L122.99 374.23 L123.59 374.63 L124.19 375.01 L124.78 375.40 L125.38 375.77 L125.97 376.14 L126.57 376.50 L127.16 376.85 L127.76 377.20 L128.35 377.54 L128.95 377.87 L129.54 378.19 L130.14 378.51 L130.74 378.82 L131.33 379.12 L131.93 379.41 L132.52 379.70 L133.12 379.97 L133.71 380.24 L134.31 380.50 L134.90 380.75 L135.50 380.99 L136.09 381.22 L136.69 381.45 L137.29 381.66 L137.88 381.87 L138.48 382.07 L139.07 382.27 L139.67 382.46 L140.26 382.64 L140.86 382.82 L141.45 382.99 L142.05 383.16 L142.65 383.32 L143.24 383.48 L143.84 383.63 L144.43 383.79 L145.03 383.94 L145.62 384.08 L146.22 384.23 L146.81 384.37 L147.41 384.51 L148.00 384.66 L148.60 384.80" fill="none" stroke="#d8a038" stroke-width="1.15" stroke-linejoin="round" opacity="1"/>
<path d="M30.10 370.81 L30.70 370.93 L31.29 371.04 L31.89 371.16 L32.48 371.27 L33.08 371.38 L33.67 371.50 L34.27 371.61 L34.86 371.72 L35.46 371.82 L36.05 371.93 L36.65 372.03 L37.25 372.14 L37.84 372.24 L38.44 372.33 L39.03 372.43 L39.63 372.52 L40.22 372.61 L40.82 372.69 L41.41 372.77 L42.01 372.85 L42.61 372.92 L43.20 372.99 L43.80 373.06 L44.39 373.12 L44.99 373.18 L45.58 373.23 L46.18 373.27 L46.77 373.31 L47.37 373.34 L47.96 373.36 L48.56 373.37 L49.16 373.37 L49.75 373.37 L50.35 373.35 L50.94 373.31 L51.54 373.27 L52.13 373.21 L52.73 373.14 L53.32 373.06 L53.92 372.96 L54.51 372.84 L55.11 372.70 L55.71 372.55 L56.30 372.38 L56.90 372.19 L57.49 371.99 L58.09 371.76 L58.68 371.52 L59.28 371.26 L59.87 370.99 L60.47 370.70 L61.06 370.40 L61.66 370.08 L62.26 369.75 L62.85 369.40 L63.45 369.04 L64.04 368.67 L64.64 368.28 L65.23 367.88 L65.83 367.48 L66.42 367.06 L67.02 366.63 L67.62 366.19 L68.21 365.75 L68.81 365.30 L69.40 364.85 L70.00 364.39 L70.59 363.93 L71.19 363.47 L71.78 363.01 L72.38 362.55 L72.97 362.09 L73.57 361.64 L74.17 361.19 L74.76 360.74 L75.36 360.30 L75.95 359.87 L76.55 359.45 L77.14 359.04 L77.74 358.65 L78.33 358.26 L78.93 357.89 L79.52 357.54 L80.12 357.21 L80.72 356.89 L81.31 356.60 L81.91 356.33 L82.50 356.08 L83.10 355.86 L83.69 355.65 L84.29 355.47 L84.88 355.32 L85.48 355.18 L86.07 355.07 L86.67 354.97 L87.27 354.90 L87.86 354.84 L88.46 354.81 L89.05 354.79 L89.65 354.80 L90.24 354.82 L90.84 354.87 L91.43 354.94 L92.03 355.03 L92.63 355.15 L93.22 355.29 L93.82 355.46 L94.41 355.66 L95.01 355.89 L95.60 356.16 L96.20 356.45 L96.79 356.77 L97.39 357.11 L97.98 357.48 L98.58 357.88 L99.18 358.29 L99.77 358.73 L100.37 359.18 L100.96 359.64 L101.56 360.12 L102.15 360.61 L102.75 361.12 L103.34 361.63 L103.94 362.14 L104.53 362.67 L105.13 363.20 L105.73 363.73 L106.32 364.26 L106.92 364.80 L107.51 365.34 L108.11 365.87 L108.70 366.40 L109.30 366.93 L109.89 367.45 L110.49 367.97 L111.08 368.48 L111.68 368.98 L112.28 369.48 L112.87 369.96 L113.47 370.43 L114.06 370.89 L114.66 371.35 L115.25 371.80 L115.85 372.23 L116.44 372.67 L117.04 373.09 L117.64 373.50 L118.23 373.91 L118.83 374.31 L119.42 374.70 L120.02 375.09 L120.61 375.47 L121.21 375.84 L121.80 376.21 L122.40 376.57 L122.99 376.93 L123.59 377.28 L124.19 377.63 L124.78 377.97 L125.38 378.30 L125.97 378.63 L126.57 378.96 L127.16 379.28 L127.76 379.59 L128.35 379.90 L128.95 380.20 L129.54 380.50 L130.14 380.79 L130.74 381.08 L131.33 381.36 L131.93 381.63 L132.52 381.90 L133.12 382.16 L133.71 382.42 L134.31 382.67 L134.90 382.91 L135.50 383.15 L136.09 383.38 L136.69 383.61 L137.29 383.83 L137.88 384.04 L138.48 384.25 L139.07 384.46 L139.67 384.66 L140.26 384.86 L140.86 385.05 L141.45 385.24 L142.05 385.43 L142.65 385.61 L143.24 385.79 L143.84 385.97 L144.43 386.15 L145.03 386.32 L145.62 386.49 L146.22 386.66 L146.81 386.83 L147.41 387.00 L148.00 387.17 L148.60 387.34" fill="none" stroke="#28c8d0" stroke-width="1.15" stroke-linejoin="round" opacity="1"/>
<path d="M30.10 374.37 L30.70 374.46 L31.29 374.55 L31.89 374.63 L32.48 374.72 L33.08 374.80 L33.67 374.88 L34.27 374.97 L34.86 375.05 L35.46 375.13 L36.05 375.21 L36.65 375.28 L37.25 375.36 L37.84 375.43 L38.44 375.50 L39.03 375.57 L39.63 375.63 L40.22 375.70 L40.82 375.76 L41.41 375.81 L42.01 375.86 L42.61 375.91 L43.20 375.96 L43.80 376.00 L44.39 376.04 L44.99 376.07 L45.58 376.10 L46.18 376.12 L46.77 376.14 L47.37 376.15 L47.96 376.15 L48.56 376.15 L49.16 376.14 L49.75 376.12 L50.35 376.09 L50.94 376.05 L51.54 376.00 L52.13 375.94 L52.73 375.87 L53.32 375.79 L53.92 375.69 L54.51 375.59 L55.11 375.47 L55.71 375.34 L56.30 375.19 L56.90 375.03 L57.49 374.85 L58.09 374.67 L58.68 374.46 L59.28 374.25 L59.87 374.02 L60.47 373.78 L61.06 373.53 L61.66 373.26 L62.26 372.98 L62.85 372.69 L63.45 372.39 L64.04 372.08 L64.64 371.76 L65.23 371.42 L65.83 371.08 L66.42 370.73 L67.02 370.37 L67.62 370.00 L68.21 369.62 L68.81 369.24 L69.40 368.86 L70.00 368.47 L70.59 368.08 L71.19 367.69 L71.78 367.31 L72.38 366.92 L72.97 366.54 L73.57 366.16 L74.17 365.79 L74.76 365.43 L75.36 365.07 L75.95 364.72 L76.55 364.38 L77.14 364.05 L77.74 363.73 L78.33 363.42 L78.93 363.12 L79.52 362.83 L80.12 362.55 L80.72 362.29 L81.31 362.04 L81.91 361.79 L82.50 361.57 L83.10 361.35 L83.69 361.15 L84.29 360.97 L84.88 360.80 L85.48 360.65 L86.07 360.51 L86.67 360.40 L87.27 360.30 L87.86 360.22 L88.46 360.17 L89.05 360.13 L89.65 360.12 L90.24 360.13 L90.84 360.16 L91.43 360.21 L92.03 360.28 L92.63 360.38 L93.22 360.50 L93.82 360.64 L94.41 360.80 L95.01 360.99 L95.60 361.20 L96.20 361.43 L96.79 361.68 L97.39 361.95 L97.98 362.24 L98.58 362.55 L99.18 362.89 L99.77 363.24 L100.37 363.60 L100.96 363.99 L101.56 364.39 L102.15 364.81 L102.75 365.25 L103.34 365.70 L103.94 366.16 L104.53 366.64 L105.13 367.12 L105.73 367.61 L106.32 368.11 L106.92 368.61 L107.51 369.11 L108.11 369.61 L108.70 370.11 L109.30 370.61 L109.89 371.11 L110.49 371.59 L111.08 372.07 L111.68 372.54 L112.28 372.99 L112.87 373.44 L113.47 373.87 L114.06 374.30 L114.66 374.71 L115.25 375.12 L115.85 375.52 L116.44 375.90 L117.04 376.28 L117.64 376.66 L118.23 377.02 L118.83 377.38 L119.42 377.73 L120.02 378.08 L120.61 378.42 L121.21 378.76 L121.80 379.09 L122.40 379.42 L122.99 379.75 L123.59 380.07 L124.19 380.39 L124.78 380.71 L125.38 381.02 L125.97 381.33 L126.57 381.64 L127.16 381.94 L127.76 382.23 L128.35 382.53 L128.95 382.81 L129.54 383.10 L130.14 383.37 L130.74 383.64 L131.33 383.91 L131.93 384.16 L132.52 384.41 L133.12 384.66 L133.71 384.89 L134.31 385.12 L134.90 385.34 L135.50 385.55 L136.09 385.75 L136.69 385.95 L137.29 386.13 L137.88 386.31 L138.48 386.48 L139.07 386.65 L139.67 386.81 L140.26 386.96 L140.86 387.11 L141.45 387.26 L142.05 387.40 L142.65 387.53 L143.24 387.66 L143.84 387.79 L144.43 387.92 L145.03 388.04 L145.62 388.16 L146.22 388.28 L146.81 388.39 L147.41 388.51 L148.00 388.62 L148.60 388.74" fill="none" stroke="#8a5860" stroke-width="1.15" stroke-linejoin="round" opacity="1"/>
<path d="M30.10 383.02 L30.70 383.07 L31.29 383.13 L31.89 383.19 L32.48 383.24 L33.08 383.30 L33.67 383.35 L34.27 383.41 L34.86 383.47 L35.46 383.52 L36.05 383.58 L36.65 383.63 L37.25 383.69 L37.84 383.74 L38.44 383.79 L39.03 383.85 L39.63 383.90 L40.22 383.95 L40.82 384.00 L41.41 384.06 L42.01 384.11 L42.61 384.16 L43.20 384.21 L43.80 384.26 L44.39 384.30 L44.99 384.35 L45.58 384.40 L46.18 384.44 L46.77 384.48 L47.37 384.52 L47.96 384.55 L48.56 384.58 L49.16 384.61 L49.75 384.62 L50.35 384.63 L50.94 384.64 L51.54 384.63 L52.13 384.62 L52.73 384.60 L53.32 384.57 L53.92 384.53 L54.51 384.47 L55.11 384.41 L55.71 384.33 L56.30 384.24 L56.90 384.14 L57.49 384.03 L58.09 383.90 L58.68 383.76 L59.28 383.60 L59.87 383.44 L60.47 383.26 L61.06 383.07 L61.66 382.87 L62.26 382.66 L62.85 382.44 L63.45 382.21 L64.04 381.96 L64.64 381.71 L65.23 381.45 L65.83 381.17 L66.42 380.89 L67.02 380.60 L67.62 380.31 L68.21 380.00 L68.81 379.70 L69.40 379.39 L70.00 379.08 L70.59 378.78 L71.19 378.47 L71.78 378.16 L72.38 377.86 L72.97 377.57 L73.57 377.28 L74.17 376.99 L74.76 376.72 L75.36 376.46 L75.95 376.20 L76.55 375.96 L77.14 375.73 L77.74 375.50 L78.33 375.28 L78.93 375.07 L79.52 374.87 L80.12 374.67 L80.72 374.48 L81.31 374.30 L81.91 374.12 L82.50 373.95 L83.10 373.79 L83.69 373.63 L84.29 373.47 L84.88 373.33 L85.48 373.19 L86.07 373.06 L86.67 372.95 L87.27 372.84 L87.86 372.74 L88.46 372.66 L89.05 372.58 L89.65 372.52 L90.24 372.48 L90.84 372.45 L91.43 372.43 L92.03 372.44 L92.63 372.47 L93.22 372.52 L93.82 372.59 L94.41 372.69 L95.01 372.82 L95.60 372.98 L96.20 373.16 L96.79 373.37 L97.39 373.60 L97.98 373.85 L98.58 374.12 L99.18 374.41 L99.77 374.71 L100.37 375.02 L100.96 375.34 L101.56 375.67 L102.15 376.01 L102.75 376.34 L103.34 376.68 L103.94 377.02 L104.53 377.37 L105.13 377.71 L105.73 378.05 L106.32 378.40 L106.92 378.74 L107.51 379.08 L108.11 379.42 L108.70 379.76 L109.30 380.10 L109.89 380.43 L110.49 380.76 L111.08 381.09 L111.68 381.41 L112.28 381.73 L112.87 382.05 L113.47 382.36 L114.06 382.66 L114.66 382.96 L115.25 383.26 L115.85 383.56 L116.44 383.85 L117.04 384.14 L117.64 384.43 L118.23 384.71 L118.83 384.99 L119.42 385.27 L120.02 385.54 L120.61 385.82 L121.21 386.09 L121.80 386.36 L122.40 386.63 L122.99 386.90 L123.59 387.17 L124.19 387.44 L124.78 387.70 L125.38 387.97 L125.97 388.23 L126.57 388.49 L127.16 388.75 L127.76 389.00 L128.35 389.25 L128.95 389.50 L129.54 389.75 L130.14 389.99 L130.74 390.22 L131.33 390.45 L131.93 390.67 L132.52 390.89 L133.12 391.11 L133.71 391.31 L134.31 391.51 L134.90 391.71 L135.50 391.89 L136.09 392.07 L136.69 392.24 L137.29 392.41 L137.88 392.56 L138.48 392.72 L139.07 392.86 L139.67 393.00 L140.26 393.14 L140.86 393.27 L141.45 393.40 L142.05 393.52 L142.65 393.64 L143.24 393.76 L143.84 393.87 L144.43 393.98 L145.03 394.09 L145.62 394.20 L146.22 394.30 L146.81 394.41 L147.41 394.51 L148.00 394.61 L148.60 394.71" fill="none" stroke="#a0a028" stroke-width="1.15" stroke-linejoin="round" opacity="1"/>
<line x1="115" y1="308.3" x2="127.8" y2="308.3" stroke="#e8505a" stroke-width="1"/>
<text x="129.3" y="310.4" font-size="6" text-anchor="start" fill="#333" >0 min</text>
<line x1="115" y1="315.5" x2="127.8" y2="315.5" stroke="#3a78d8" stroke-width="1"/>
<text x="129.3" y="317.6" font-size="6" text-anchor="start" fill="#333" >20 min</text>
<line x1="115" y1="322.7" x2="127.8" y2="322.7" stroke="#58b878" stroke-width="1"/>
<text x="129.3" y="324.8" font-size="6" text-anchor="start" fill="#333" >40 min</text>
<line x1="115" y1="329.8" x2="127.8" y2="329.8" stroke="#b888e8" stroke-width="1"/>
<text x="129.3" y="331.9" font-size="6" text-anchor="start" fill="#333" >1 h</text>
<line x1="115" y1="337" x2="127.8" y2="337" stroke="#d8a038" stroke-width="1"/>
<text x="129.3" y="339.1" font-size="6" text-anchor="start" fill="#333" >1.5 h</text>
<line x1="115" y1="344.2" x2="127.8" y2="344.2" stroke="#28c8d0" stroke-width="1"/>
<text x="129.3" y="346.3" font-size="6" text-anchor="start" fill="#333" >2 h</text>
<line x1="115" y1="351.4" x2="127.8" y2="351.4" stroke="#8a5860" stroke-width="1"/>
<text x="129.3" y="353.5" font-size="6" text-anchor="start" fill="#333" >2.5 h</text>
<line x1="115" y1="358.6" x2="127.8" y2="358.6" stroke="#a0a028" stroke-width="1"/>
<text x="129.3" y="360.7" font-size="6" text-anchor="start" fill="#333" >3 h</text>
<rect x="194.3" y="301" width="124.5" height="104.2" fill="none" stroke="#888" stroke-width="0.9"/>
<line x1="194.3" y1="400.3" x2="195.8" y2="400.3" stroke="#777" stroke-width="0.8"/>
<text x="191.2" y="403.1" font-size="7.9" text-anchor="end" fill="#333" >0</text>
<line x1="194.3" y1="382.3" x2="195.8" y2="382.3" stroke="#777" stroke-width="0.8"/>
<text x="191.2" y="385.1" font-size="7.9" text-anchor="end" fill="#333" >20</text>
<line x1="194.3" y1="364.3" x2="195.8" y2="364.3" stroke="#777" stroke-width="0.8"/>
<text x="191.2" y="367.1" font-size="7.9" text-anchor="end" fill="#333" >40</text>
<line x1="194.3" y1="346.4" x2="195.8" y2="346.4" stroke="#777" stroke-width="0.8"/>
<text x="191.2" y="349.2" font-size="7.9" text-anchor="end" fill="#333" >60</text>
<line x1="194.3" y1="328.4" x2="195.8" y2="328.4" stroke="#777" stroke-width="0.8"/>
<text x="191.2" y="331.2" font-size="7.9" text-anchor="end" fill="#333" >80</text>
<line x1="194.3" y1="310.4" x2="195.8" y2="310.4" stroke="#777" stroke-width="0.8"/>
<text x="191.2" y="313.2" font-size="7.9" text-anchor="end" fill="#333" >100</text>
<line x1="208.4" y1="405.2" x2="208.4" y2="403.2" stroke="#777" stroke-width="0.8"/>
<text x="208.4" y="416" font-size="7.8" text-anchor="middle" fill="#333" >10</text>
<line x1="242.8" y1="405.2" x2="242.8" y2="403.2" stroke="#777" stroke-width="0.8"/>
<text x="242.8" y="416" font-size="7.8" text-anchor="middle" fill="#333" >100</text>
<line x1="277.2" y1="405.2" x2="277.2" y2="403.2" stroke="#777" stroke-width="0.8"/>
<text x="277.2" y="416" font-size="7.8" text-anchor="middle" fill="#333" >1000</text>
<line x1="311.6" y1="405.2" x2="311.6" y2="403.2" stroke="#777" stroke-width="0.8"/>
<text x="311.6" y="416" font-size="7.8" text-anchor="middle" fill="#333" >10000</text>
<line x1="194.7" y1="405.2" x2="194.7" y2="404.2" stroke="#888" stroke-width="0.6"/>
<line x1="198" y1="405.2" x2="198" y2="404.2" stroke="#888" stroke-width="0.6"/>
<line x1="200.8" y1="405.2" x2="200.8" y2="404.2" stroke="#888" stroke-width="0.6"/>
<line x1="203.1" y1="405.2" x2="203.1" y2="404.2" stroke="#888" stroke-width="0.6"/>
<line x1="205.1" y1="405.2" x2="205.1" y2="404.2" stroke="#888" stroke-width="0.6"/>
<line x1="206.8" y1="405.2" x2="206.8" y2="404.2" stroke="#888" stroke-width="0.6"/>
<line x1="218.8" y1="405.2" x2="218.8" y2="404.2" stroke="#888" stroke-width="0.6"/>
<line x1="224.8" y1="405.2" x2="224.8" y2="404.2" stroke="#888" stroke-width="0.6"/>
<line x1="229.1" y1="405.2" x2="229.1" y2="404.2" stroke="#888" stroke-width="0.6"/>
<line x1="232.4" y1="405.2" x2="232.4" y2="404.2" stroke="#888" stroke-width="0.6"/>
<line x1="235.2" y1="405.2" x2="235.2" y2="404.2" stroke="#888" stroke-width="0.6"/>
<line x1="237.5" y1="405.2" x2="237.5" y2="404.2" stroke="#888" stroke-width="0.6"/>
<line x1="239.5" y1="405.2" x2="239.5" y2="404.2" stroke="#888" stroke-width="0.6"/>
<line x1="241.2" y1="405.2" x2="241.2" y2="404.2" stroke="#888" stroke-width="0.6"/>
<line x1="253.2" y1="405.2" x2="253.2" y2="404.2" stroke="#888" stroke-width="0.6"/>
<line x1="259.2" y1="405.2" x2="259.2" y2="404.2" stroke="#888" stroke-width="0.6"/>
<line x1="263.5" y1="405.2" x2="263.5" y2="404.2" stroke="#888" stroke-width="0.6"/>
<line x1="266.8" y1="405.2" x2="266.8" y2="404.2" stroke="#888" stroke-width="0.6"/>
<line x1="269.6" y1="405.2" x2="269.6" y2="404.2" stroke="#888" stroke-width="0.6"/>
<line x1="271.9" y1="405.2" x2="271.9" y2="404.2" stroke="#888" stroke-width="0.6"/>
<line x1="273.9" y1="405.2" x2="273.9" y2="404.2" stroke="#888" stroke-width="0.6"/>
<line x1="275.6" y1="405.2" x2="275.6" y2="404.2" stroke="#888" stroke-width="0.6"/>
<line x1="287.6" y1="405.2" x2="287.6" y2="404.2" stroke="#888" stroke-width="0.6"/>
<line x1="293.6" y1="405.2" x2="293.6" y2="404.2" stroke="#888" stroke-width="0.6"/>
<line x1="297.9" y1="405.2" x2="297.9" y2="404.2" stroke="#888" stroke-width="0.6"/>
<line x1="301.2" y1="405.2" x2="301.2" y2="404.2" stroke="#888" stroke-width="0.6"/>
<line x1="304" y1="405.2" x2="304" y2="404.2" stroke="#888" stroke-width="0.6"/>
<line x1="306.3" y1="405.2" x2="306.3" y2="404.2" stroke="#888" stroke-width="0.6"/>
<line x1="308.3" y1="405.2" x2="308.3" y2="404.2" stroke="#888" stroke-width="0.6"/>
<line x1="310" y1="405.2" x2="310" y2="404.2" stroke="#888" stroke-width="0.6"/>
<text x="235.6" y="425.4" font-size="8.4" text-anchor="start" fill="#333" style="font-family:'Liberation Sans','Noto Sans CJK SC',sans-serif">Size （nm)</text>
<text transform="translate(177.2 353.5) rotate(-90)" font-size="8.4" text-anchor="middle" fill="#333">Intensity</text>
<path d="M194.80 400.30 L195.08 400.30 L195.35 400.30 L195.63 400.30 L195.91 400.29 L196.19 400.29 L196.46 400.29 L196.74 400.29 L197.02 400.29 L197.30 400.28 L197.57 400.28 L197.85 400.28 L198.13 400.27 L198.41 400.27 L198.68 400.26 L198.96 400.25 L199.24 400.24 L199.52 400.23 L199.79 400.22 L200.07 400.21 L200.35 400.19 L200.63 400.17 L200.90 400.15 L201.18 400.12 L201.46 400.09 L201.73 400.05 L202.01 400.01 L202.29 399.96 L202.57 399.91 L202.84 399.85 L203.12 399.78 L203.40 399.70 L203.68 399.60 L203.95 399.50 L204.23 399.38 L204.51 399.25 L204.79 399.10 L205.06 398.94 L205.34 398.75 L205.62 398.54 L205.90 398.31 L206.17 398.05 L206.45 397.76 L206.73 397.45 L207.01 397.10 L207.28 396.71 L207.56 396.29 L207.84 395.83 L208.11 395.33 L208.39 394.78 L208.67 394.18 L208.95 393.54 L209.22 392.84 L209.50 392.08 L209.78 391.27 L210.06 390.39 L210.33 389.46 L210.61 388.46 L210.89 387.40 L211.17 386.27 L211.44 385.07 L211.72 383.80 L212.00 382.46 L212.28 381.05 L212.55 379.57 L212.83 378.02 L213.11 376.40 L213.38 374.72 L213.66 372.97 L213.94 371.16 L214.22 369.29 L214.49 367.36 L214.77 365.38 L215.05 363.35 L215.33 361.27 L215.60 359.16 L215.88 357.01 L216.16 354.84 L216.44 352.64 L216.71 350.43 L216.99 348.22 L217.27 346.00 L217.55 343.79 L217.82 341.60 L218.10 339.42 L218.38 337.28 L218.66 335.18 L218.93 333.12 L219.21 331.12 L219.49 329.18 L219.76 327.30 L220.04 325.50 L220.32 323.79 L220.60 322.15 L220.87 320.62 L221.15 319.18 L221.43 317.84 L221.71 316.61 L221.98 315.49 L222.26 314.48 L222.54 313.58 L222.82 312.80 L223.09 312.13 L223.37 311.58 L223.65 311.14 L223.93 310.81 L224.20 310.58 L224.48 310.45 L224.76 310.40 L225.04 310.42 L225.31 310.52 L225.59 310.70 L225.87 311.00 L226.14 311.39 L226.42 311.90 L226.70 312.52 L226.98 313.26 L227.25 314.11 L227.53 315.07 L227.81 316.15 L228.09 317.34 L228.36 318.63 L228.64 320.03 L228.92 321.53 L229.20 323.13 L229.47 324.81 L229.75 326.58 L230.03 328.42 L230.31 330.34 L230.58 332.32 L230.86 334.36 L231.14 336.44 L231.42 338.57 L231.69 340.73 L231.97 342.91 L232.25 345.12 L232.52 347.33 L232.80 349.55 L233.08 351.76 L233.36 353.97 L233.63 356.15 L233.91 358.31 L234.19 360.43 L234.47 362.53 L234.74 364.57 L235.02 366.58 L235.30 368.53 L235.58 370.42 L235.85 372.26 L236.13 374.03 L236.41 375.74 L236.69 377.39 L236.96 378.96 L237.24 380.47 L237.52 381.91 L237.79 383.27 L238.07 384.57 L238.35 385.80 L238.63 386.95 L238.90 388.05 L239.18 389.07 L239.46 390.03 L239.74 390.93 L240.01 391.76 L240.29 392.54 L240.57 393.26 L240.85 393.93 L241.12 394.55 L241.40 395.12 L241.68 395.64 L241.96 396.11 L242.23 396.55 L242.51 396.95 L242.79 397.31 L243.07 397.64 L243.34 397.94 L243.62 398.21 L243.90 398.45 L244.17 398.67 L244.45 398.86 L244.73 399.04 L245.01 399.19 L245.28 399.33 L245.56 399.46 L245.84 399.56 L246.12 399.66 L246.39 399.75 L246.67 399.82 L246.95 399.89 L247.23 399.94 L247.50 399.99 L247.78 400.04 L248.06 400.08 L248.34 400.11 L248.61 400.14 L248.89 400.16 L249.17 400.18 L249.45 400.20 L249.72 400.22 L250.00 400.23" fill="none" stroke="#404040" stroke-width="1.15" stroke-linejoin="round" opacity="1"/>
<path d="M220.00 400.30 L220.36 400.30 L220.72 400.30 L221.09 400.30 L221.45 400.30 L221.81 400.30 L222.17 400.30 L222.53 400.29 L222.89 400.29 L223.26 400.29 L223.62 400.29 L223.98 400.29 L224.34 400.28 L224.70 400.28 L225.07 400.28 L225.43 400.27 L225.79 400.26 L226.15 400.26 L226.51 400.25 L226.87 400.23 L227.24 400.22 L227.60 400.20 L227.96 400.18 L228.32 400.16 L228.68 400.13 L229.05 400.10 L229.41 400.06 L229.77 400.02 L230.13 399.96 L230.49 399.90 L230.85 399.83 L231.22 399.75 L231.58 399.65 L231.94 399.54 L232.30 399.42 L232.66 399.27 L233.03 399.11 L233.39 398.92 L233.75 398.71 L234.11 398.47 L234.47 398.20 L234.83 397.89 L235.20 397.55 L235.56 397.17 L235.92 396.75 L236.28 396.28 L236.64 395.75 L237.01 395.18 L237.37 394.55 L237.73 393.85 L238.09 393.10 L238.45 392.27 L238.81 391.37 L239.18 390.40 L239.54 389.35 L239.90 388.22 L240.26 387.00 L240.62 385.70 L240.98 384.32 L241.35 382.85 L241.71 381.29 L242.07 379.64 L242.43 377.91 L242.79 376.08 L243.16 374.18 L243.52 372.20 L243.88 370.13 L244.24 368.00 L244.60 365.80 L244.96 363.53 L245.33 361.21 L245.69 358.84 L246.05 356.43 L246.41 353.99 L246.77 351.52 L247.14 349.04 L247.50 346.56 L247.86 344.08 L248.22 341.63 L248.58 339.20 L248.94 336.81 L249.31 334.47 L249.67 332.19 L250.03 329.98 L250.39 327.85 L250.75 325.82 L251.12 323.88 L251.48 322.06 L251.84 320.35 L252.20 318.76 L252.56 317.31 L252.92 315.99 L253.29 314.81 L253.65 313.77 L254.01 312.87 L254.37 312.12 L254.73 311.51 L255.10 311.04 L255.46 310.71 L255.82 310.50 L256.18 310.41 L256.54 310.41 L256.90 310.50 L257.27 310.70 L257.63 311.03 L257.99 311.49 L258.35 312.10 L258.71 312.84 L259.08 313.73 L259.44 314.76 L259.80 315.94 L260.16 317.25 L260.52 318.70 L260.88 320.28 L261.25 321.99 L261.61 323.81 L261.97 325.74 L262.33 327.77 L262.69 329.89 L263.06 332.09 L263.42 334.37 L263.78 336.71 L264.14 339.10 L264.50 341.53 L264.86 343.98 L265.23 346.46 L265.59 348.94 L265.95 351.42 L266.31 353.89 L266.67 356.33 L267.04 358.74 L267.40 361.11 L267.76 363.44 L268.12 365.71 L268.48 367.91 L268.84 370.05 L269.21 372.11 L269.57 374.10 L269.93 376.01 L270.29 377.83 L270.65 379.57 L271.02 381.22 L271.38 382.79 L271.74 384.26 L272.10 385.65 L272.46 386.95 L272.82 388.17 L273.19 389.30 L273.55 390.36 L273.91 391.33 L274.27 392.23 L274.63 393.06 L274.99 393.82 L275.36 394.52 L275.72 395.16 L276.08 395.73 L276.44 396.26 L276.80 396.73 L277.17 397.15 L277.53 397.54 L277.89 397.88 L278.25 398.19 L278.61 398.46 L278.97 398.70 L279.34 398.91 L279.70 399.10 L280.06 399.27 L280.42 399.41 L280.78 399.54 L281.15 399.65 L281.51 399.75 L281.87 399.83 L282.23 399.90 L282.59 399.96 L282.95 400.02 L283.32 400.06 L283.68 400.10 L284.04 400.13 L284.40 400.16 L284.76 400.18 L285.13 400.20 L285.49 400.22 L285.85 400.23 L286.21 400.25 L286.57 400.26 L286.93 400.26 L287.30 400.27 L287.66 400.28 L288.02 400.28 L288.38 400.28 L288.74 400.29 L289.11 400.29 L289.47 400.29 L289.83 400.29 L290.19 400.29 L290.55 400.30 L290.91 400.30 L291.28 400.30 L291.64 400.30 L292.00 400.30" fill="none" stroke="#e84a5a" stroke-width="1.15" stroke-linejoin="round" opacity="1"/>
<path d="M230.00 400.30 L230.35 400.30 L230.70 400.30 L231.06 400.30 L231.41 400.30 L231.76 400.30 L232.11 400.30 L232.46 400.30 L232.81 400.29 L233.17 400.29 L233.52 400.29 L233.87 400.29 L234.22 400.29 L234.57 400.28 L234.92 400.28 L235.28 400.28 L235.63 400.27 L235.98 400.26 L236.33 400.26 L236.68 400.25 L237.04 400.23 L237.39 400.22 L237.74 400.20 L238.09 400.19 L238.44 400.16 L238.79 400.14 L239.15 400.10 L239.50 400.07 L239.85 400.03 L240.20 399.98 L240.55 399.92 L240.90 399.85 L241.26 399.77 L241.61 399.68 L241.96 399.58 L242.31 399.47 L242.66 399.33 L243.02 399.18 L243.37 399.01 L243.72 398.81 L244.07 398.59 L244.42 398.35 L244.77 398.07 L245.13 397.76 L245.48 397.41 L245.83 397.03 L246.18 396.60 L246.53 396.13 L246.88 395.60 L247.24 395.03 L247.59 394.40 L247.94 393.72 L248.29 392.97 L248.64 392.15 L248.99 391.27 L249.35 390.32 L249.70 389.29 L250.05 388.19 L250.40 387.01 L250.75 385.75 L251.11 384.41 L251.46 382.98 L251.81 381.48 L252.16 379.88 L252.51 378.21 L252.86 376.46 L253.22 374.62 L253.57 372.71 L253.92 370.73 L254.27 368.67 L254.62 366.55 L254.97 364.37 L255.33 362.13 L255.68 359.85 L256.03 357.52 L256.38 355.16 L256.73 352.77 L257.09 350.37 L257.44 347.95 L257.79 345.54 L258.14 343.14 L258.49 340.76 L258.84 338.41 L259.20 336.10 L259.55 333.84 L259.90 331.64 L260.25 329.51 L260.60 327.46 L260.95 325.50 L261.31 323.63 L261.66 321.87 L262.01 320.22 L262.36 318.69 L262.71 317.28 L263.07 316.00 L263.42 314.85 L263.77 313.83 L264.12 312.95 L264.47 312.20 L264.82 311.59 L265.18 311.12 L265.53 310.77 L265.88 310.54 L266.23 310.42 L266.58 310.40 L266.93 310.46 L267.29 310.62 L267.64 310.89 L267.99 311.29 L268.34 311.82 L268.69 312.49 L269.05 313.29 L269.40 314.22 L269.75 315.29 L270.10 316.50 L270.45 317.83 L270.80 319.29 L271.16 320.87 L271.51 322.57 L271.86 324.37 L272.21 326.28 L272.56 328.28 L272.91 330.36 L273.27 332.52 L273.62 334.74 L273.97 337.02 L274.32 339.35 L274.67 341.71 L275.03 344.10 L275.38 346.51 L275.73 348.93 L276.08 351.34 L276.43 353.73 L276.78 356.11 L277.14 358.46 L277.49 360.77 L277.84 363.04 L278.19 365.25 L278.54 367.41 L278.89 369.51 L279.25 371.53 L279.60 373.49 L279.95 375.37 L280.30 377.17 L280.65 378.89 L281.01 380.53 L281.36 382.09 L281.71 383.57 L282.06 384.96 L282.41 386.27 L282.76 387.49 L283.12 388.64 L283.47 389.71 L283.82 390.71 L284.17 391.64 L284.52 392.49 L284.87 393.28 L285.23 394.00 L285.58 394.66 L285.93 395.27 L286.28 395.82 L286.63 396.32 L286.98 396.78 L287.34 397.19 L287.69 397.55 L288.04 397.89 L288.39 398.18 L288.74 398.45 L289.10 398.68 L289.45 398.89 L289.80 399.08 L290.15 399.24 L290.50 399.39 L290.85 399.51 L291.21 399.63 L291.56 399.72 L291.91 399.81 L292.26 399.88 L292.61 399.94 L292.96 400.00 L293.32 400.04 L293.67 400.08 L294.02 400.12 L294.37 400.15 L294.72 400.17 L295.08 400.19 L295.43 400.21 L295.78 400.23 L296.13 400.24 L296.48 400.25 L296.83 400.26 L297.19 400.27 L297.54 400.27 L297.89 400.28 L298.24 400.28 L298.59 400.29 L298.94 400.29 L299.30 400.29 L299.65 400.29 L300.00 400.29" fill="none" stroke="#3a78d8" stroke-width="1.15" stroke-linejoin="round" opacity="1"/>
<path d="M236.00 400.30 L236.35 400.30 L236.69 400.30 L237.04 400.30 L237.39 400.30 L237.73 400.30 L238.08 400.30 L238.43 400.30 L238.77 400.29 L239.12 400.29 L239.47 400.29 L239.81 400.29 L240.16 400.29 L240.51 400.28 L240.85 400.28 L241.20 400.27 L241.55 400.27 L241.89 400.26 L242.24 400.25 L242.59 400.24 L242.93 400.23 L243.28 400.22 L243.63 400.20 L243.97 400.18 L244.32 400.16 L244.67 400.13 L245.02 400.10 L245.36 400.06 L245.71 400.01 L246.06 399.96 L246.40 399.91 L246.75 399.84 L247.10 399.76 L247.44 399.67 L247.79 399.57 L248.14 399.45 L248.48 399.32 L248.83 399.16 L249.18 398.99 L249.52 398.80 L249.87 398.58 L250.22 398.34 L250.56 398.06 L250.91 397.75 L251.26 397.41 L251.60 397.03 L251.95 396.61 L252.30 396.15 L252.64 395.64 L252.99 395.08 L253.34 394.46 L253.68 393.79 L254.03 393.06 L254.38 392.26 L254.72 391.41 L255.07 390.48 L255.42 389.48 L255.76 388.41 L256.11 387.26 L256.46 386.03 L256.80 384.73 L257.15 383.34 L257.50 381.88 L257.84 380.33 L258.19 378.70 L258.54 377.00 L258.88 375.21 L259.23 373.36 L259.58 371.42 L259.92 369.42 L260.27 367.35 L260.62 365.23 L260.96 363.04 L261.31 360.81 L261.66 358.53 L262.01 356.22 L262.35 353.87 L262.70 351.51 L263.05 349.14 L263.39 346.76 L263.74 344.38 L264.09 342.02 L264.43 339.69 L264.78 337.39 L265.13 335.13 L265.47 332.93 L265.82 330.79 L266.17 328.72 L266.51 326.73 L266.86 324.83 L267.21 323.02 L267.55 321.32 L267.90 319.73 L268.25 318.26 L268.59 316.90 L268.94 315.68 L269.29 314.58 L269.63 313.61 L269.98 312.77 L270.33 312.06 L270.67 311.49 L271.02 311.04 L271.37 310.72 L271.71 310.51 L272.06 310.42 L272.41 310.40 L272.75 310.47 L273.10 310.64 L273.45 310.92 L273.79 311.32 L274.14 311.86 L274.49 312.52 L274.83 313.31 L275.18 314.23 L275.53 315.29 L275.87 316.48 L276.22 317.79 L276.57 319.22 L276.91 320.77 L277.26 322.44 L277.61 324.21 L277.95 326.08 L278.30 328.04 L278.65 330.08 L278.99 332.20 L279.34 334.38 L279.69 336.62 L280.04 338.91 L280.38 341.23 L280.73 343.58 L281.08 345.95 L281.42 348.33 L281.77 350.71 L282.12 353.08 L282.46 355.43 L282.81 357.75 L283.16 360.04 L283.50 362.29 L283.85 364.49 L284.20 366.64 L284.54 368.73 L284.89 370.75 L285.24 372.71 L285.58 374.59 L285.93 376.40 L286.28 378.14 L286.62 379.79 L286.97 381.36 L287.32 382.86 L287.66 384.27 L288.01 385.60 L288.36 386.85 L288.70 388.03 L289.05 389.12 L289.40 390.15 L289.74 391.10 L290.09 391.98 L290.44 392.80 L290.78 393.55 L291.13 394.24 L291.48 394.87 L291.82 395.45 L292.17 395.98 L292.52 396.46 L292.86 396.90 L293.21 397.29 L293.56 397.64 L293.90 397.96 L294.25 398.25 L294.60 398.50 L294.94 398.73 L295.29 398.93 L295.64 399.11 L295.98 399.27 L296.33 399.41 L296.68 399.53 L297.03 399.64 L297.37 399.73 L297.72 399.81 L298.07 399.88 L298.41 399.95 L298.76 400.00 L299.11 400.04 L299.45 400.08 L299.80 400.12 L300.15 400.15 L300.49 400.17 L300.84 400.19 L301.19 400.21 L301.53 400.23 L301.88 400.24 L302.23 400.25 L302.57 400.26 L302.92 400.27 L303.27 400.27 L303.61 400.28 L303.96 400.28 L304.31 400.28 L304.65 400.29 L305.00 400.29" fill="none" stroke="#48b870" stroke-width="1.15" stroke-linejoin="round" opacity="1"/>
<path d="M238.00 400.30 L238.35 400.30 L238.70 400.30 L239.06 400.30 L239.41 400.30 L239.76 400.30 L240.11 400.30 L240.46 400.30 L240.81 400.29 L241.17 400.29 L241.52 400.29 L241.87 400.29 L242.22 400.29 L242.57 400.28 L242.92 400.28 L243.28 400.27 L243.63 400.27 L243.98 400.26 L244.33 400.25 L244.68 400.24 L245.04 400.23 L245.39 400.22 L245.74 400.20 L246.09 400.18 L246.44 400.16 L246.79 400.13 L247.15 400.10 L247.50 400.06 L247.85 400.02 L248.20 399.97 L248.55 399.91 L248.90 399.84 L249.26 399.76 L249.61 399.67 L249.96 399.56 L250.31 399.44 L250.66 399.31 L251.02 399.15 L251.37 398.98 L251.72 398.78 L252.07 398.55 L252.42 398.30 L252.77 398.02 L253.13 397.70 L253.48 397.35 L253.83 396.96 L254.18 396.52 L254.53 396.04 L254.88 395.51 L255.24 394.93 L255.59 394.29 L255.94 393.59 L256.29 392.83 L256.64 392.01 L256.99 391.11 L257.35 390.15 L257.70 389.11 L258.05 388.00 L258.40 386.80 L258.75 385.53 L259.11 384.17 L259.46 382.73 L259.81 381.21 L260.16 379.61 L260.51 377.92 L260.86 376.15 L261.22 374.30 L261.57 372.38 L261.92 370.38 L262.27 368.32 L262.62 366.18 L262.97 363.99 L263.33 361.75 L263.68 359.45 L264.03 357.12 L264.38 354.75 L264.73 352.36 L265.09 349.96 L265.44 347.54 L265.79 345.13 L266.14 342.73 L266.49 340.36 L266.84 338.01 L267.20 335.71 L267.55 333.46 L267.90 331.27 L268.25 329.16 L268.60 327.12 L268.95 325.17 L269.31 323.33 L269.66 321.58 L270.01 319.95 L270.36 318.44 L270.71 317.05 L271.07 315.79 L271.42 314.66 L271.77 313.67 L272.12 312.81 L272.47 312.09 L272.82 311.50 L273.18 311.05 L273.53 310.72 L273.88 310.51 L274.23 310.41 L274.58 310.40 L274.93 310.48 L275.29 310.65 L275.64 310.95 L275.99 311.37 L276.34 311.93 L276.69 312.61 L277.05 313.44 L277.40 314.40 L277.75 315.49 L278.10 316.72 L278.45 318.07 L278.80 319.55 L279.16 321.15 L279.51 322.87 L279.86 324.69 L280.21 326.61 L280.56 328.63 L280.91 330.72 L281.27 332.89 L281.62 335.13 L281.97 337.42 L282.32 339.75 L282.67 342.12 L283.03 344.51 L283.38 346.92 L283.73 349.34 L284.08 351.75 L284.43 354.14 L284.78 356.52 L285.14 358.86 L285.49 361.16 L285.84 363.42 L286.19 365.63 L286.54 367.77 L286.89 369.86 L287.25 371.87 L287.60 373.82 L287.95 375.68 L288.30 377.47 L288.65 379.18 L289.01 380.81 L289.36 382.35 L289.71 383.81 L290.06 385.19 L290.41 386.48 L290.76 387.70 L291.12 388.83 L291.47 389.89 L291.82 390.87 L292.17 391.79 L292.52 392.63 L292.87 393.40 L293.23 394.12 L293.58 394.77 L293.93 395.37 L294.28 395.91 L294.63 396.40 L294.98 396.85 L295.34 397.25 L295.69 397.61 L296.04 397.94 L296.39 398.23 L296.74 398.49 L297.10 398.72 L297.45 398.93 L297.80 399.11 L298.15 399.27 L298.50 399.41 L298.85 399.53 L299.21 399.64 L299.56 399.74 L299.91 399.82 L300.26 399.89 L300.61 399.95 L300.96 400.01 L301.32 400.05 L301.67 400.09 L302.02 400.12 L302.37 400.15 L302.72 400.18 L303.08 400.20 L303.43 400.21 L303.78 400.23 L304.13 400.24 L304.48 400.25 L304.83 400.26 L305.19 400.27 L305.54 400.27 L305.89 400.28 L306.24 400.28 L306.59 400.29 L306.94 400.29 L307.30 400.29 L307.65 400.29 L308.00 400.29" fill="none" stroke="#b888e8" stroke-width="1.15" stroke-linejoin="round" opacity="1"/>
<path d="M241.80 400.30 L242.18 400.30 L242.55 400.30 L242.93 400.30 L243.31 400.30 L243.68 400.30 L244.06 400.30 L244.44 400.30 L244.82 400.30 L245.19 400.30 L245.57 400.30 L245.95 400.30 L246.32 400.29 L246.70 400.29 L247.08 400.29 L247.45 400.29 L247.83 400.29 L248.21 400.28 L248.58 400.28 L248.96 400.27 L249.34 400.26 L249.71 400.26 L250.09 400.25 L250.47 400.23 L250.85 400.22 L251.22 400.20 L251.60 400.18 L251.98 400.16 L252.35 400.13 L252.73 400.09 L253.11 400.05 L253.48 400.00 L253.86 399.94 L254.24 399.87 L254.61 399.79 L254.99 399.70 L255.37 399.59 L255.74 399.47 L256.12 399.32 L256.50 399.16 L256.88 398.97 L257.25 398.75 L257.63 398.51 L258.01 398.23 L258.38 397.92 L258.76 397.57 L259.14 397.17 L259.51 396.73 L259.89 396.24 L260.27 395.69 L260.64 395.08 L261.02 394.41 L261.40 393.67 L261.77 392.86 L262.15 391.98 L262.53 391.02 L262.91 389.97 L263.28 388.84 L263.66 387.62 L264.04 386.31 L264.41 384.91 L264.79 383.41 L265.17 381.82 L265.54 380.13 L265.92 378.35 L266.30 376.47 L266.67 374.51 L267.05 372.45 L267.43 370.31 L267.81 368.09 L268.18 365.80 L268.56 363.44 L268.94 361.02 L269.31 358.55 L269.69 356.03 L270.07 353.48 L270.44 350.91 L270.82 348.32 L271.20 345.74 L271.57 343.16 L271.95 340.61 L272.33 338.10 L272.70 335.63 L273.08 333.23 L273.46 330.89 L273.84 328.64 L274.21 326.49 L274.59 324.44 L274.97 322.51 L275.34 320.70 L275.72 319.02 L276.10 317.49 L276.47 316.10 L276.85 314.86 L277.23 313.77 L277.60 312.84 L277.98 312.07 L278.36 311.45 L278.73 310.98 L279.11 310.66 L279.49 310.47 L279.87 310.40 L280.24 310.43 L280.62 310.56 L281.00 310.82 L281.37 311.22 L281.75 311.78 L282.13 312.48 L282.50 313.34 L282.88 314.36 L283.26 315.53 L283.63 316.85 L284.01 318.32 L284.39 319.94 L284.76 321.69 L285.14 323.57 L285.52 325.57 L285.90 327.68 L286.27 329.89 L286.65 332.18 L287.03 334.56 L287.40 337.00 L287.78 339.50 L288.16 342.03 L288.53 344.60 L288.91 347.18 L289.29 349.76 L289.66 352.34 L290.04 354.90 L290.42 357.44 L290.79 359.93 L291.17 362.37 L291.55 364.76 L291.93 367.09 L292.30 369.34 L292.68 371.52 L293.06 373.61 L293.43 375.62 L293.81 377.53 L294.19 379.36 L294.56 381.08 L294.94 382.72 L295.32 384.26 L295.69 385.70 L296.07 387.05 L296.45 388.31 L296.83 389.48 L297.20 390.56 L297.58 391.56 L297.96 392.48 L298.33 393.32 L298.71 394.09 L299.09 394.79 L299.46 395.43 L299.84 396.00 L300.22 396.52 L300.59 396.98 L300.97 397.40 L301.35 397.77 L301.72 398.10 L302.10 398.39 L302.48 398.65 L302.86 398.88 L303.23 399.08 L303.61 399.25 L303.99 399.41 L304.36 399.54 L304.74 399.65 L305.12 399.75 L305.49 399.84 L305.87 399.91 L306.25 399.97 L306.62 400.03 L307.00 400.07 L307.38 400.11 L307.75 400.14 L308.13 400.17 L308.51 400.19 L308.89 400.21 L309.26 400.23 L309.64 400.24 L310.02 400.25 L310.39 400.26 L310.77 400.27 L311.15 400.27 L311.52 400.28 L311.90 400.28 L312.28 400.29 L312.65 400.29 L313.03 400.29 L313.41 400.29 L313.78 400.29 L314.16 400.30 L314.54 400.30 L314.92 400.30 L315.29 400.30 L315.67 400.30 L316.05 400.30 L316.42 400.30 L316.80 400.30" fill="none" stroke="#d0a030" stroke-width="1.15" stroke-linejoin="round" opacity="1"/>
<line x1="290.2" y1="306.1" x2="300.8" y2="306.1" stroke="#404040" stroke-width="1"/>
<text x="302.3" y="307.9" font-size="5.0" text-anchor="start" fill="#333" >0 min</text>
<line x1="290.2" y1="312.1" x2="300.8" y2="312.1" stroke="#e84a5a" stroke-width="1"/>
<text x="302.3" y="313.9" font-size="5.0" text-anchor="start" fill="#333" >30 min</text>
<line x1="290.2" y1="318" x2="300.8" y2="318" stroke="#3a78d8" stroke-width="1"/>
<text x="302.3" y="319.8" font-size="5.0" text-anchor="start" fill="#333" >60 min</text>
<line x1="290.2" y1="324" x2="300.8" y2="324" stroke="#48b870" stroke-width="1"/>
<text x="302.3" y="325.8" font-size="5.0" text-anchor="start" fill="#333" >1.5 h</text>
<line x1="290.2" y1="329.9" x2="300.8" y2="329.9" stroke="#b888e8" stroke-width="1"/>
<text x="302.3" y="331.7" font-size="5.0" text-anchor="start" fill="#333" >2 h</text>
<line x1="290.2" y1="335.9" x2="300.8" y2="335.9" stroke="#d0a030" stroke-width="1"/>
<text x="302.3" y="337.7" font-size="5.0" text-anchor="start" fill="#333" >3 h</text>
</svg></body></html>
